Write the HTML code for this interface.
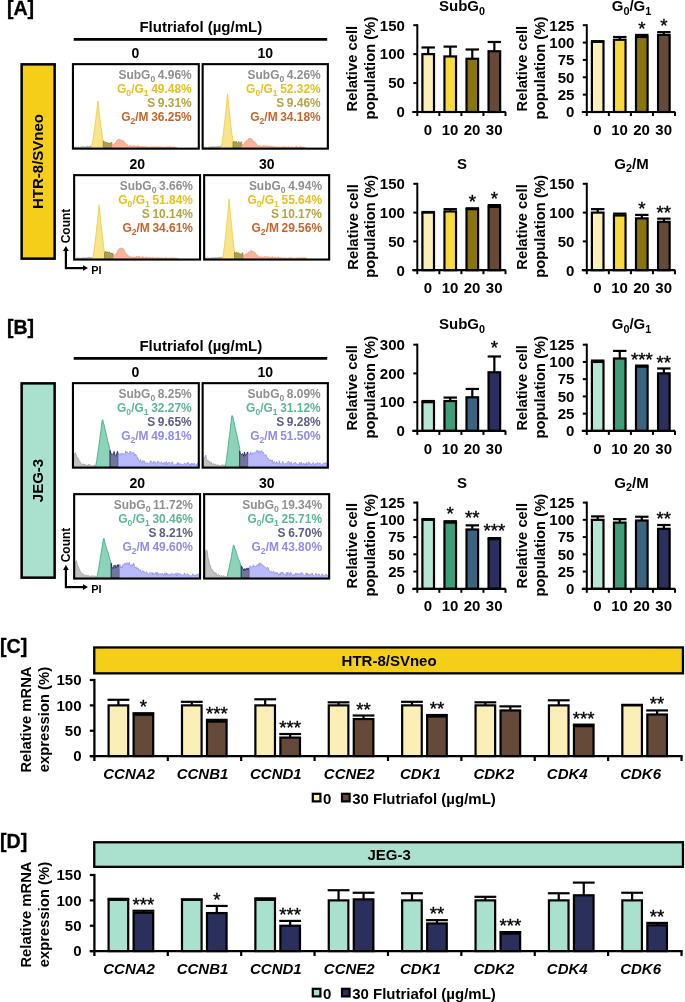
<!DOCTYPE html>
<html lang="en">
<head>
<meta charset="utf-8">
<title>Flutriafol cell cycle figure</title>
<style>
html,body{margin:0;padding:0;background:#fff;}
body{width:685px;height:1002px;overflow:hidden;font-family:"Liberation Sans", Arial, sans-serif;}
svg{display:block;}
svg text{font-family:"Liberation Sans", Arial, sans-serif;}
</style>
</head>
<body>
<svg width="685" height="1002" viewBox="0 0 685 1002" font-family='"Liberation Sans", Arial, sans-serif' font-weight="bold">
<rect x="0" y="0" width="685" height="1002" fill="#fff"/>
<text x="6.9" y="15.4" font-size="19.6" text-anchor="start" fill="#000" font-weight="bold" stroke="#000" stroke-width="0.3">[A]</text>
<text x="200.8" y="32.2" font-size="15" text-anchor="middle" fill="#000" font-weight="bold">Flutriafol (µg/mL)</text>
<line x1="73.7" y1="39.4" x2="327.2" y2="39.4" stroke="#000" stroke-width="2.8" stroke-linecap="butt"/>
<rect x="21.65" y="64.35" width="33" height="194.3" fill="#f4ce18" stroke="#000" stroke-width="2.5"/>
<text x="43.1" y="161.5" font-size="15" text-anchor="middle" fill="#000" font-weight="bold" transform="rotate(-90 43.1 161.5)">HTR-8/SVneo</text>
<text x="135.3" y="58" font-size="14" text-anchor="middle" fill="#000" font-weight="bold">0</text>
<text x="265.3" y="58" font-size="14" text-anchor="middle" fill="#000" font-weight="bold">10</text>
<text x="137.2" y="169.3" font-size="14" text-anchor="middle" fill="#000" font-weight="bold">20</text>
<text x="266.8" y="169.3" font-size="14" text-anchor="middle" fill="#000" font-weight="bold">30</text>
<path d="M73.9 147.9L73.9 147.46L74.9 147.33L75.9 147.02L76.9 147.26L77.9 147.16L78.9 147.04L79.9 147.27L80.9 146.96L81.9 146.8L82.9 146.6L83.9 147.1L84.9 146.87L85.9 146.99L86.9 146.29L87.9 146.33L88.9 146.85L89.9 145.91L90.9 145.85L90.9 147.9Z" fill="#bdbdbd" stroke="#8e8e8e" stroke-width="0.5" stroke-linejoin="round" fill-opacity="1"/>
<path d="M90.9 147.9L90.9 147.1L91.4 147.65L91.9 145.55L92.4 142.89L92.9 139.91L93.4 136.67L93.9 133.23L94.4 129.62L94.9 125.87L95.4 121.98L95.9 117.97L96.4 113.85L96.9 109.63L97.4 105.31L97.9 100.9L98.4 105.31L98.9 109.63L99.4 113.85L99.9 117.97L100.4 121.98L100.9 125.87L101.4 129.62L101.9 133.23L102.4 136.67L102.9 139.91L103.3 142.32L103.3 141.9L103.3 147.9Z" fill="#f8e48a" stroke="#e9c82c" stroke-width="0.7" stroke-linejoin="round" fill-opacity="1"/>
<path d="M103.3 147.9L103.3 140.96L104.1 141.19L104.9 142.36L105.7 142.83L106.5 141.83L107.3 143.03L108.1 142.89L108.9 142.92L109.7 143.54L110.5 142.72L111.3 142.92L111.9 142.13L111.9 147.9Z" fill="#aaa150" stroke="#7a7327" stroke-width="0.6" stroke-linejoin="round" fill-opacity="1"/>
<path d="M111.9 147.9L111.9 145.42L112.7 144.72L113.5 144.38L114.3 143.39L115.1 143.11L115.9 142.75L116.7 140.5L117.5 139.82L118.3 139.54L119.1 139.35L119.9 139.86L120.7 139.91L121.5 139.96L122.3 140.95L123.1 140.31L123.9 142.06L124.7 142.12L125.5 144.01L126.3 143.68L127.1 144.54L127.9 146.26L128.7 146.17L129.5 145.35L130.3 146L131.1 145.33L131.9 146.09L132.7 146.5L133.5 145.74L134.3 145.52L135.1 146.21L135.9 146.47L136.7 146.17L137.5 145.37L138.3 145.7L139.1 146.58L139.9 146.48L140.7 146.72L141.5 146.83L142.3 146.04L143.1 146.82L143.9 146.46L144.7 146.65L145.5 146.99L146.3 146.47L147.1 147.14L147.9 146.66L148.7 147.23L149.5 146.95L150.3 147.18L151.1 147.15L151.9 146.49L152.7 146.67L153.5 147.15L154.3 146.61L155.1 147.26L155.9 147.09L156.7 146.66L157.5 146.86L158.3 147.37L159.1 146.54L159.9 147.27L160.7 147.23L161.5 146.74L162.3 147.16L163.1 147.19L163.9 147.4L164.7 147.38L165.5 146.92L166.3 147.24L167.1 146.91L167.9 147.12L168.7 147.04L169.5 146.57L170.3 147.02L171.1 146.93L171.9 146.66L172.7 147.3L173.5 147.32L173.9 146.62L174.9 147.46L175.9 147.62L176.85 147.64L176.85 147.9Z" fill="#fbb49a" stroke="#f08a5e" stroke-width="0.6" stroke-linejoin="round" fill-opacity="1"/>
<rect x="72.95" y="64.15" width="125.85" height="84.5" fill="none" stroke="#000" stroke-width="2.1"/>
<text x="191.65" y="79" font-size="11.95" text-anchor="end" fill="#8f8f8f" font-weight="bold" style="word-spacing:-0.7px">SubG<tspan font-size="8.6" dy="2.81">0</tspan><tspan dy="-2.81">&#8203;</tspan> 4.96%</text>
<text x="191.65" y="93" font-size="11.95" text-anchor="end" fill="#e6c11f" font-weight="bold" style="word-spacing:-0.7px">G<tspan font-size="8.6" dy="2.81">0</tspan><tspan dy="-2.81">&#8203;</tspan>/G<tspan font-size="8.6" dy="2.81">1</tspan><tspan dy="-2.81">&#8203;</tspan> 49.48%</text>
<text x="191.65" y="107" font-size="11.95" text-anchor="end" fill="#b3a544" font-weight="bold" style="word-spacing:-0.7px">S 9.31%</text>
<text x="191.65" y="121" font-size="11.95" text-anchor="end" fill="#c8642a" font-weight="bold" style="word-spacing:-0.7px">G<tspan font-size="8.6" dy="2.81">2</tspan><tspan dy="-2.81">&#8203;</tspan>/M 36.25%</text>
<path d="M203.6 147.9L203.6 147.45L204.6 147.27L205.6 147.19L206.6 147.48L207.6 147.51L208.6 147.19L209.6 147.2L210.6 146.73L211.6 146.75L212.6 146.75L213.6 146.72L214.6 146.56L215.6 146.94L216.6 146.62L217.6 146.8L218.6 146.06L219.6 146.78L220.6 145.99L220.6 147.9Z" fill="#bdbdbd" stroke="#8e8e8e" stroke-width="0.5" stroke-linejoin="round" fill-opacity="1"/>
<path d="M220.6 147.9L220.6 147.1L221.1 147.61L221.6 145.2L222.1 142.15L222.6 138.71L223.1 135L223.6 131.05L224.1 126.9L224.6 122.59L225.1 118.12L225.6 113.51L226.1 108.78L226.6 103.93L227.1 98.96L227.6 93.9L228.1 98.96L228.6 103.93L229.1 108.78L229.6 113.51L230.1 118.12L230.6 122.59L231.1 126.9L231.6 131.05L232.1 135L232.6 138.71L233 141.49L233 141.9L233 147.9Z" fill="#f8e48a" stroke="#e9c82c" stroke-width="0.7" stroke-linejoin="round" fill-opacity="1"/>
<path d="M233 147.9L233 142.25L233.8 141.03L234.6 141.96L235.4 141.96L236.2 141.13L237 143.12L237.8 143.18L238.6 141.41L239.4 142.47L240.2 143.56L241 141.7L241.6 141.9L241.6 147.9Z" fill="#aaa150" stroke="#7a7327" stroke-width="0.6" stroke-linejoin="round" fill-opacity="1"/>
<path d="M241.6 147.9L241.6 145.86L242.4 144.83L243.2 144.78L244 143.69L244.8 142.24L245.6 142.36L246.4 140.41L247.2 140.99L248 140.06L248.8 138.17L249.6 138.7L250.4 138.52L251.2 138.34L252 139.21L252.8 140.34L253.6 142.19L254.4 141.88L255.2 142.42L256 143.34L256.8 144.67L257.6 145.63L258.4 145.9L259.2 145.61L260 145.71L260.8 146.47L261.6 146.3L262.4 146.11L263.2 145.89L264 145.48L264.8 145.9L265.6 146.55L266.4 145.51L267.2 146.08L268 146.01L268.8 146.45L269.6 146.25L270.4 146.37L271.2 145.98L272 146.85L272.8 146.4L273.6 146.89L274.4 146.38L275.2 147.15L276 146.95L276.8 146.92L277.6 146.67L278.4 147.29L279.2 146.92L280 147.19L280.8 147.14L281.6 146.97L282.4 146.52L283.2 146.99L284 146.54L284.8 147.3L285.6 146.59L286.4 147.12L287.2 147.29L288 146.76L288.8 146.61L289.6 147.46L290.4 147.22L291.2 146.75L292 147.15L292.8 147.24L293.6 147.46L294.4 147.43L295.2 146.89L296 146.55L296.8 146.53L297.6 147L298.4 147.45L299.2 147.17L300 146.73L300.8 146.69L301.6 146.87L302.4 147.25L303.2 146.97L303.6 147.02L304.6 147.51L305.6 147.62L305.9 147.42L305.9 147.9Z" fill="#fbb49a" stroke="#f08a5e" stroke-width="0.6" stroke-linejoin="round" fill-opacity="1"/>
<rect x="202.65" y="64.15" width="125.2" height="84.5" fill="none" stroke="#000" stroke-width="2.1"/>
<text x="320.7" y="79" font-size="11.95" text-anchor="end" fill="#8f8f8f" font-weight="bold" style="word-spacing:-0.7px">SubG<tspan font-size="8.6" dy="2.81">0</tspan><tspan dy="-2.81">&#8203;</tspan> 4.26%</text>
<text x="320.7" y="93" font-size="11.95" text-anchor="end" fill="#e6c11f" font-weight="bold" style="word-spacing:-0.7px">G<tspan font-size="8.6" dy="2.81">0</tspan><tspan dy="-2.81">&#8203;</tspan>/G<tspan font-size="8.6" dy="2.81">1</tspan><tspan dy="-2.81">&#8203;</tspan> 52.32%</text>
<text x="320.7" y="107" font-size="11.95" text-anchor="end" fill="#b3a544" font-weight="bold" style="word-spacing:-0.7px">S 9.46%</text>
<text x="320.7" y="121" font-size="11.95" text-anchor="end" fill="#c8642a" font-weight="bold" style="word-spacing:-0.7px">G<tspan font-size="8.6" dy="2.81">2</tspan><tspan dy="-2.81">&#8203;</tspan>/M 34.18%</text>
<path d="M75.1 258.8L75.1 258.48L76.1 258.15L77.1 258.08L78.1 257.9L79.1 258.29L80.1 258.19L81.1 258.19L82.1 258.08L83.1 257.62L84.1 258.03L85.1 257.64L86.1 257.84L87.1 257.71L88.1 257.53L89.1 257.1L90.1 257.23L91.1 257.72L92.1 257.42L92.1 258.8Z" fill="#bdbdbd" stroke="#8e8e8e" stroke-width="0.5" stroke-linejoin="round" fill-opacity="1"/>
<path d="M92.1 258.8L92.1 258L92.6 258.51L93.1 256.1L93.6 253.05L94.1 249.61L94.6 245.9L95.1 241.95L95.6 237.8L96.1 233.49L96.6 229.02L97.1 224.41L97.6 219.68L98.1 214.83L98.6 209.86L99.1 204.8L99.6 209.86L100.1 214.83L100.6 219.68L101.1 224.41L101.6 229.02L102.1 233.49L102.6 237.8L103.1 241.95L103.6 245.9L104.1 249.61L104.5 252.39L104.5 252.8L104.5 258.8Z" fill="#f8e48a" stroke="#e9c82c" stroke-width="0.7" stroke-linejoin="round" fill-opacity="1"/>
<path d="M104.5 258.8L104.5 252.99L105.3 251.52L106.1 251.8L106.9 251.96L107.7 252.06L108.5 252.4L109.3 252.09L110.1 252.58L110.9 253.94L111.7 252.76L112.5 253.72L113.1 253.23L113.1 258.8Z" fill="#aaa150" stroke="#7a7327" stroke-width="0.6" stroke-linejoin="round" fill-opacity="1"/>
<path d="M113.1 258.8L113.1 255.83L113.9 255.45L114.7 254.87L115.5 253.91L116.3 253.26L117.1 252.74L117.9 250.33L118.7 249.51L119.5 248.36L120.3 248.39L121.1 248.29L121.9 247.72L122.7 249.23L123.5 248.79L124.3 250.33L125.1 252.15L125.9 253.38L126.7 253.89L127.5 255.43L128.3 255.75L129.1 256.04L129.9 256.69L130.7 257.24L131.5 256.83L132.3 257.2L133.1 257.19L133.9 257.23L134.7 256.99L135.5 257.37L136.3 256.6L137.1 256.21L137.9 256.99L138.7 256.59L139.5 256.37L140.3 257.58L141.1 257.51L141.9 256.76L142.7 256.8L143.5 257.12L144.3 257.75L145.1 257.52L145.9 257.09L146.7 257.15L147.5 257.3L148.3 257.97L149.1 257.35L149.9 257.87L150.7 257.56L151.5 258.16L152.3 257.37L153.1 257.74L153.9 257.64L154.7 258.14L155.5 257.77L156.3 257.81L157.1 257.8L157.9 258.02L158.7 257.68L159.5 258.04L160.3 258.09L161.1 258.21L161.9 257.73L162.7 258.26L163.5 258.16L164.3 258.3L165.1 257.77L165.9 257.85L166.7 257.86L167.5 258.33L168.3 257.96L169.1 258.05L169.9 258.28L170.7 258.37L171.5 257.43L172.3 258.25L173.1 258.09L173.9 258.12L174.7 257.81L175.1 258.3L176.1 258.46L177.1 258.49L178.1 258.35L178.1 258.8Z" fill="#fbb49a" stroke="#f08a5e" stroke-width="0.6" stroke-linejoin="round" fill-opacity="1"/>
<rect x="74.15" y="175.15" width="125.9" height="84.4" fill="none" stroke="#000" stroke-width="2.1"/>
<text x="192.9" y="190" font-size="11.95" text-anchor="end" fill="#8f8f8f" font-weight="bold" style="word-spacing:-0.7px">SubG<tspan font-size="8.6" dy="2.81">0</tspan><tspan dy="-2.81">&#8203;</tspan> 3.66%</text>
<text x="192.9" y="204" font-size="11.95" text-anchor="end" fill="#e6c11f" font-weight="bold" style="word-spacing:-0.7px">G<tspan font-size="8.6" dy="2.81">0</tspan><tspan dy="-2.81">&#8203;</tspan>/G<tspan font-size="8.6" dy="2.81">1</tspan><tspan dy="-2.81">&#8203;</tspan> 51.84%</text>
<text x="192.9" y="218" font-size="11.95" text-anchor="end" fill="#b3a544" font-weight="bold" style="word-spacing:-0.7px">S 10.14%</text>
<text x="192.9" y="232" font-size="11.95" text-anchor="end" fill="#c8642a" font-weight="bold" style="word-spacing:-0.7px">G<tspan font-size="8.6" dy="2.81">2</tspan><tspan dy="-2.81">&#8203;</tspan>/M 34.61%</text>
<path d="M205.1 258.8L205.1 258.58L206.1 258.14L207.1 258.1L208.1 257.83L209.1 258.23L210.1 258.18L211.1 257.76L212.1 257.75L213.1 257.95L214.1 257.59L215.1 257.75L216.1 257.37L217.1 257.86L218.1 257.71L219.1 257.04L220.1 257.46L221.1 257.49L222.1 256.91L222.1 258.8Z" fill="#bdbdbd" stroke="#8e8e8e" stroke-width="0.5" stroke-linejoin="round" fill-opacity="1"/>
<path d="M222.1 258.8L222.1 258L222.6 258.48L223.1 255.8L223.6 252.41L224.1 248.59L224.6 244.46L225.1 240.07L225.6 235.47L226.1 230.67L226.6 225.71L227.1 220.59L227.6 215.33L228.1 209.94L228.6 204.43L229.1 198.8L229.6 204.43L230.1 209.94L230.6 215.33L231.1 220.59L231.6 225.71L232.1 230.67L232.6 235.47L233.1 240.07L233.6 244.46L234.1 248.59L234.5 251.68L234.5 252.8L234.5 258.8Z" fill="#f8e48a" stroke="#e9c82c" stroke-width="0.7" stroke-linejoin="round" fill-opacity="1"/>
<path d="M234.5 258.8L234.5 251.91L235.3 253.13L236.1 252.38L236.9 252.28L237.7 253.55L238.5 252.6L239.3 253.94L240.1 253.61L240.9 254.32L241.7 254.2L242.5 252.62L243.1 254.02L243.1 258.8Z" fill="#aaa150" stroke="#7a7327" stroke-width="0.6" stroke-linejoin="round" fill-opacity="1"/>
<path d="M243.1 258.8L243.1 255.73L243.9 256.1L244.7 255.26L245.5 254.07L246.3 253.79L247.1 254.31L247.9 252.62L248.7 251.88L249.5 252.27L250.3 252.01L251.1 250.08L251.9 250.72L252.7 251.54L253.5 251.5L254.3 252.75L255.1 252.44L255.9 254L256.7 255.68L257.5 254.99L258.3 256.76L259.1 256.79L259.9 257.35L260.7 256.49L261.5 257.38L262.3 256.84L263.1 257.39L263.9 256.86L264.7 256.56L265.5 256.75L266.3 256.86L267.1 256.84L267.9 256.93L268.7 256.76L269.5 257.46L270.3 257.03L271.1 257.39L271.9 256.68L272.7 256.68L273.5 257.79L274.3 257.76L275.1 257.2L275.9 257.42L276.7 258.07L277.5 257.4L278.3 257.21L279.1 257.79L279.9 257.9L280.7 257.71L281.5 257.38L282.3 258.05L283.1 258.03L283.9 258.15L284.7 257.75L285.5 257.91L286.3 258.11L287.1 257.99L287.9 258.33L288.7 258.07L289.5 257.44L290.3 257.82L291.1 258.1L291.9 257.49L292.7 258.03L293.5 258.13L294.3 258.34L295.1 258.23L295.9 258.18L296.7 258.15L297.5 257.55L298.3 258.12L299.1 258.14L299.9 257.8L300.7 257.51L301.5 258.1L302.3 257.65L303.1 258.02L303.9 257.84L304.7 257.81L305.1 257.49L306.1 258.37L307.1 258.45L307.2 258.35L307.2 258.8Z" fill="#fbb49a" stroke="#f08a5e" stroke-width="0.6" stroke-linejoin="round" fill-opacity="1"/>
<rect x="204.15" y="175.15" width="125" height="84.4" fill="none" stroke="#000" stroke-width="2.1"/>
<text x="322" y="190" font-size="11.95" text-anchor="end" fill="#8f8f8f" font-weight="bold" style="word-spacing:-0.7px">SubG<tspan font-size="8.6" dy="2.81">0</tspan><tspan dy="-2.81">&#8203;</tspan> 4.94%</text>
<text x="322" y="204" font-size="11.95" text-anchor="end" fill="#e6c11f" font-weight="bold" style="word-spacing:-0.7px">G<tspan font-size="8.6" dy="2.81">0</tspan><tspan dy="-2.81">&#8203;</tspan>/G<tspan font-size="8.6" dy="2.81">1</tspan><tspan dy="-2.81">&#8203;</tspan> 55.64%</text>
<text x="322" y="218" font-size="11.95" text-anchor="end" fill="#b3a544" font-weight="bold" style="word-spacing:-0.7px">S 10.17%</text>
<text x="322" y="232" font-size="11.95" text-anchor="end" fill="#c8642a" font-weight="bold" style="word-spacing:-0.7px">G<tspan font-size="8.6" dy="2.81">2</tspan><tspan dy="-2.81">&#8203;</tspan>/M 29.56%</text>
<line x1="65.9" y1="249.4" x2="65.9" y2="269.2" stroke="#000" stroke-width="2.2" stroke-linecap="butt"/>
<line x1="65.9" y1="268.1" x2="84.5" y2="268.1" stroke="#000" stroke-width="2.2" stroke-linecap="butt"/>
<path d="M65.9 245.9L63 250.9L68.8 250.9Z" fill="#000"/>
<path d="M88 268.1L83 265.2L83 271Z" fill="#000"/>
<text x="70.2" y="226" font-size="12" text-anchor="middle" fill="#000" font-weight="bold" transform="rotate(-90 70.2 226)">Count</text>
<text x="91.3" y="274.1" font-size="10.9" text-anchor="start" fill="#000" font-weight="bold">PI</text>
<text x="6.9" y="334.4" font-size="19.6" text-anchor="start" fill="#000" font-weight="bold" stroke="#000" stroke-width="0.3">[B]</text>
<text x="200.8" y="351.2" font-size="15" text-anchor="middle" fill="#000" font-weight="bold">Flutriafol (µg/mL)</text>
<line x1="73.7" y1="358.4" x2="327.2" y2="358.4" stroke="#000" stroke-width="2.8" stroke-linecap="butt"/>
<rect x="21.65" y="383.35" width="33" height="194.3" fill="#a9e0ce" stroke="#000" stroke-width="2.5"/>
<text x="43.1" y="480.5" font-size="15" text-anchor="middle" fill="#000" font-weight="bold" transform="rotate(-90 43.1 480.5)">JEG-3</text>
<text x="135.3" y="377" font-size="14" text-anchor="middle" fill="#000" font-weight="bold">0</text>
<text x="265.3" y="377" font-size="14" text-anchor="middle" fill="#000" font-weight="bold">10</text>
<text x="137.2" y="488.3" font-size="14" text-anchor="middle" fill="#000" font-weight="bold">20</text>
<text x="266.8" y="488.3" font-size="14" text-anchor="middle" fill="#000" font-weight="bold">30</text>
<path d="M73.2 466.9L73.2 466.6L73.7 460.98L74.5 453.86L75.3 452.5L76.1 454.81L76.9 457.55L77.7 457.47L78.5 458.84L79.3 460.9L80.1 461.85L80.9 463.42L81.7 464.65L82.5 464.02L83.3 463.85L84.1 465.35L84.9 463.99L85.7 465.35L86.5 465.49L87.3 465.95L88.1 464.29L88.9 464.85L89.7 464.69L90.5 465.19L91.3 466.22L92.1 465.75L92.9 465.5L93.7 466.15L94.5 464.79L94.9 465.75L94.9 466.9Z" fill="#c2c2c2" stroke="#8e8e8e" stroke-width="0.6" stroke-linejoin="round" fill-opacity="1"/>
<path d="M95 466.9L95 466.1L95.6 466.9L96.2 463.32L96.8 460.47L97.4 455.36L98 451.86L98.6 447.43L99.2 443.33L99.8 438.65L100.4 434.5L101 430.08L101.6 424.23L102.2 420.37L102.8 419.7L103.4 423.04L104 424.51L104.6 427.14L105.2 429.85L105.8 432.35L106.4 435.1L107 437.38L107.6 440.71L108.2 442.69L108.8 444.66L109.4 447.98L110 449.39L110 466.9Z" fill="#8dd3b9" stroke="#3fae85" stroke-width="0.9" stroke-linejoin="round" fill-opacity="1"/>
<path d="M110 466.9L110 450.4L110.6 451.95L111.3 454.36L112 454.58L112.7 454.15L113.4 454.48L114.1 451.41L114.8 454.47L115.5 456.28L116.2 455.95L116.9 452.8L117.6 451.42L118.2 453.92L118.2 466.9Z" fill="#74759c" stroke="#1d1d4a" stroke-width="0.8" stroke-linejoin="round" fill-opacity="1"/>
<path d="M118.2 466.9L118.2 453.9L118.8 454.61L119.5 454.3L120.2 453.41L120.9 455.33L121.6 453.64L122.3 453.62L123 453.11L123.7 454.58L124.4 454.34L125.1 453.37L125.8 450.87L126.5 452.95L127.2 451.84L127.9 452.93L128.6 453.74L129.3 453.97L130 451.19L130.7 451.53L131.4 453.37L132.1 452.49L132.8 452.93L133.5 452.55L134.2 452.91L134.9 455.76L135.6 454.25L136.3 455.17L137 457.46L137.7 457.1L138.4 459.36L139.1 460.45L139.8 461.48L140.5 459.45L141.2 462.6L141.9 463.24L142.6 460.57L143.3 460.86L144 462.13L144.7 460.85L145.4 464.01L146.1 463.27L146.8 463.2L147.5 462.74L148.2 463.76L148.9 464.2L149.6 463.18L150.3 461.02L151 460.72L151.7 461.68L152.4 462.76L153.1 463.68L153.8 460.93L154.5 462.66L155.2 461.89L155.9 464.66L156.6 463.97L157.3 461.54L158 461.74L158.7 461.43L159.4 462.55L160.1 463.26L160.8 462.68L161.5 461.68L162.2 463.78L162.9 462.94L163.6 463.94L164.3 462.11L165 464.98L165.7 462.47L166.4 461.5L167.1 464.98L167.8 462.89L168.5 462.73L169.2 462L169.9 463L170.6 464.2L171.3 463.69L172 461.72L172.7 461.94L173.4 464.72L174.1 464.87L174.8 464.89L175.5 465.14L176.2 463.68L176.9 464.77L177.6 462.25L178.3 463.01L179 464.86L179.7 463.46L180.4 464.21L181.1 463.65L181.8 464.6L182.5 464.79L183.2 464.75L183.9 464.11L184.6 463.02L185.3 463.57L186 465.26L186.7 463.07L187.4 462.56L188.1 462.9L188.8 462.87L189.5 465.44L190.2 463.97L190.9 465.29L191.6 463.04L192.3 464.95L193 463.24L193.7 464.73L194.4 463.32L195.1 464.56L195.8 465.43L196.5 464.35L197.2 464.61L197.9 462.77L198.6 464.68L198.85 464.04L198.85 466.9Z" fill="#b9b9fb" stroke="#7d7df0" stroke-width="0.6" stroke-linejoin="round" fill-opacity="1"/>
<rect x="72.95" y="383.15" width="125.85" height="84.5" fill="none" stroke="#000" stroke-width="2.1"/>
<text x="191.65" y="398" font-size="11.95" text-anchor="end" fill="#8f8f8f" font-weight="bold" style="word-spacing:-0.7px">SubG<tspan font-size="8.6" dy="2.81">0</tspan><tspan dy="-2.81">&#8203;</tspan> 8.25%</text>
<text x="191.65" y="412" font-size="11.95" text-anchor="end" fill="#5bb893" font-weight="bold" style="word-spacing:-0.7px">G<tspan font-size="8.6" dy="2.81">0</tspan><tspan dy="-2.81">&#8203;</tspan>/G<tspan font-size="8.6" dy="2.81">1</tspan><tspan dy="-2.81">&#8203;</tspan> 32.27%</text>
<text x="191.65" y="426" font-size="11.95" text-anchor="end" fill="#5d5d86" font-weight="bold" style="word-spacing:-0.7px">S 9.65%</text>
<text x="191.65" y="440" font-size="11.95" text-anchor="end" fill="#8c8cf2" font-weight="bold" style="word-spacing:-0.7px">G<tspan font-size="8.6" dy="2.81">2</tspan><tspan dy="-2.81">&#8203;</tspan>/M 49.81%</text>
<path d="M202.9 466.9L202.9 466.6L203.4 459.61L204.2 457.46L205 456.52L205.8 455.03L206.6 459.14L207.4 460.75L208.2 460.29L209 462.19L209.8 461.29L210.6 463.9L211.4 462.36L212.2 464.45L213 464.09L213.8 463.64L214.6 464.4L215.4 464.11L216.2 464.68L217 466L217.8 464.58L218.6 465.17L219.4 465.71L220.2 465.95L221 464.88L221.8 465.35L222.6 464.79L223.4 465.08L224.2 464.79L224.6 465.44L224.6 466.9Z" fill="#c2c2c2" stroke="#8e8e8e" stroke-width="0.6" stroke-linejoin="round" fill-opacity="1"/>
<path d="M224.7 466.9L224.7 466.1L225.3 466.82L225.9 463.23L226.5 459.57L227.1 454.19L227.7 450.5L228.3 445.11L228.9 440.02L229.5 435.5L230.1 431.18L230.7 425.12L231.3 420.16L231.9 415.6L232.5 415.9L233.1 418.03L233.7 421.52L234.3 423.05L234.9 426.42L235.5 429.17L236.1 432.08L236.7 434.47L237.3 436.85L237.9 440.43L238.5 443.04L239.1 445.45L239.7 448.53L239.7 466.9Z" fill="#8dd3b9" stroke="#3fae85" stroke-width="0.9" stroke-linejoin="round" fill-opacity="1"/>
<path d="M239.7 466.9L239.7 450.9L240.3 453.92L241 454.18L241.7 454.74L242.4 453.53L243.1 454.26L243.8 456.48L244.5 451.9L245.2 455.13L245.9 454.74L246.6 454.89L247.3 452.24L247.9 452.12L247.9 466.9Z" fill="#74759c" stroke="#1d1d4a" stroke-width="0.8" stroke-linejoin="round" fill-opacity="1"/>
<path d="M247.9 466.9L247.9 454.4L248.5 453.62L249.2 453.97L249.9 455.05L250.6 451.77L251.3 454.41L252 452.71L252.7 453.22L253.4 453.01L254.1 452.61L254.8 452.98L255.5 453.33L256.2 451.19L256.9 450.04L257.6 450.58L258.3 452.36L259 450.54L259.7 453.23L260.4 452.06L261.1 450.73L261.8 450.74L262.5 453L263.2 452.04L263.9 454.06L264.6 454.71L265.3 455.32L266 454.62L266.7 456.48L267.4 458.41L268.1 458.19L268.8 459.21L269.5 460.92L270.2 459.7L270.9 459.94L271.6 461.06L272.3 459.98L273 463.79L273.7 462.04L274.4 461.62L275.1 462.86L275.8 463.6L276.5 461.62L277.2 462.68L277.9 463.37L278.6 464.31L279.3 460.72L280 463.16L280.7 464.11L281.4 463.76L282.1 463.64L282.8 461.27L283.5 463.98L284.2 463.64L284.9 464.37L285.6 462.93L286.3 463.99L287 463.48L287.7 461.97L288.4 461.26L289.1 461.65L289.8 464.76L290.5 463.47L291.2 461.68L291.9 464.83L292.6 464.2L293.3 463.13L294 463.56L294.7 462.2L295.4 462.35L296.1 463.32L296.8 464.14L297.5 464.23L298.2 464.12L298.9 464.87L299.6 462.7L300.3 464.56L301 461.94L301.7 462.84L302.4 464.97L303.1 463.41L303.8 463.06L304.5 465.07L305.2 463.52L305.9 465.14L306.6 462.58L307.3 465.26L308 463.09L308.7 461.89L309.4 462.4L310.1 464.52L310.8 463.51L311.5 464.87L312.2 464.2L312.9 462.46L313.6 462.63L314.3 465.36L315 464.14L315.7 463.29L316.4 464.85L317.1 462.79L317.8 462.51L318.5 463.65L319.2 464.29L319.9 462.72L320.6 463.83L321.3 464.89L322 464.62L322.7 465.01L323.4 462.85L324.1 463.92L324.8 463.34L325.5 462.98L326.2 462.5L326.9 464.98L327.6 464.32L327.9 462.86L327.9 466.9Z" fill="#b9b9fb" stroke="#7d7df0" stroke-width="0.6" stroke-linejoin="round" fill-opacity="1"/>
<rect x="202.65" y="383.15" width="125.2" height="84.5" fill="none" stroke="#000" stroke-width="2.1"/>
<text x="320.7" y="398" font-size="11.95" text-anchor="end" fill="#8f8f8f" font-weight="bold" style="word-spacing:-0.7px">SubG<tspan font-size="8.6" dy="2.81">0</tspan><tspan dy="-2.81">&#8203;</tspan> 8.09%</text>
<text x="320.7" y="412" font-size="11.95" text-anchor="end" fill="#5bb893" font-weight="bold" style="word-spacing:-0.7px">G<tspan font-size="8.6" dy="2.81">0</tspan><tspan dy="-2.81">&#8203;</tspan>/G<tspan font-size="8.6" dy="2.81">1</tspan><tspan dy="-2.81">&#8203;</tspan> 31.12%</text>
<text x="320.7" y="426" font-size="11.95" text-anchor="end" fill="#5d5d86" font-weight="bold" style="word-spacing:-0.7px">S 9.28%</text>
<text x="320.7" y="440" font-size="11.95" text-anchor="end" fill="#8c8cf2" font-weight="bold" style="word-spacing:-0.7px">G<tspan font-size="8.6" dy="2.81">2</tspan><tspan dy="-2.81">&#8203;</tspan>/M 51.50%</text>
<path d="M74.4 577.8L74.4 577.5L74.9 568.48L75.7 562.05L76.5 560.47L77.3 565.11L78.1 565.8L78.9 568.3L79.7 569.62L80.5 572.2L81.3 573.09L82.1 573.18L82.9 574.56L83.7 574.39L84.5 575.93L85.3 576.05L86.1 574.88L86.9 575.74L87.7 575.74L88.5 575.46L89.3 576.29L90.1 576.92L90.9 575.7L91.7 576.1L92.5 576.04L93.3 576.14L94.1 575.59L94.9 576.63L95.7 575.99L96.1 576.64L96.1 577.8Z" fill="#c2c2c2" stroke="#8e8e8e" stroke-width="0.6" stroke-linejoin="round" fill-opacity="1"/>
<path d="M96.2 577.8L96.2 577L96.8 577.77L97.4 574.96L98 572.26L98.6 569.24L99.2 565.22L99.8 561.3L100.4 557.81L101 554.26L101.6 550.18L102.2 546.96L102.8 543.05L103.4 538.88L104 538.27L104.6 541.26L105.2 543.49L105.8 545.62L106.4 547.81L107 549.57L107.6 551.24L108.2 552.97L108.8 555.73L109.4 557.74L110 559.9L110.6 561.92L111.2 563.29L111.2 577.8Z" fill="#8dd3b9" stroke="#3fae85" stroke-width="0.9" stroke-linejoin="round" fill-opacity="1"/>
<path d="M111.2 577.8L111.2 563.3L111.8 566.55L112.5 568.02L113.2 568.78L113.9 565.37L114.6 565.76L115.3 565.14L116 568.12L116.7 566.57L117.4 564.69L118.1 566.33L118.8 564.55L119.4 568.48L119.4 577.8Z" fill="#74759c" stroke="#1d1d4a" stroke-width="0.8" stroke-linejoin="round" fill-opacity="1"/>
<path d="M119.4 577.8L119.4 566.8L120 564.52L120.7 568.05L121.4 566.53L122.1 567.94L122.8 564.69L123.5 564.96L124.2 563.61L124.9 564.01L125.6 563.18L126.3 564.54L127 562.55L127.7 563.3L128.4 564.75L129.1 562.22L129.8 564.57L130.5 565.35L131.2 565.92L131.9 564.56L132.6 565.84L133.3 563.24L134 563.53L134.7 566.84L135.4 567.82L136.1 566.77L136.8 568.88L137.5 568.15L138.2 567.85L138.9 570.77L139.6 570.78L140.3 569.48L141 571.76L141.7 572.56L142.4 570.72L143.1 571.28L143.8 571.16L144.5 572.13L145.2 573.33L145.9 572.33L146.6 571.87L147.3 572.68L148 574.31L148.7 574.14L149.4 573.73L150.1 572.35L150.8 573.23L151.5 573.29L152.2 572.24L152.9 575.08L153.6 573.06L154.3 574.26L155 573.4L155.7 572.35L156.4 574.67L157.1 571.95L157.8 575.39L158.5 573.53L159.2 573.63L159.9 574.86L160.6 573.61L161.3 573.99L162 574.09L162.7 573.08L163.4 575.84L164.1 574.44L164.8 572.91L165.5 575.37L166.2 572.67L166.9 575.17L167.6 573.42L168.3 575.32L169 574.32L169.7 574.44L170.4 575.71L171.1 573.48L171.8 574.3L172.5 573.56L173.2 574.13L173.9 574.09L174.6 574.22L175.3 575.05L176 572.94L176.7 575.83L177.4 573.07L178.1 573.14L178.8 574.44L179.5 573.49L180.2 573.87L180.9 574.13L181.6 575.22L182.3 575.14L183 575.06L183.7 575.23L184.4 573.03L185.1 575.13L185.8 574.99L186.5 574.9L187.2 573.6L187.9 574.74L188.6 574.51L189.3 575.51L190 575.45L190.7 576.08L191.4 575.67L192.1 575.54L192.8 573.65L193.5 574.8L194.2 576.07L194.9 574.95L195.6 576.06L196.3 574.66L197 575.06L197.7 573.77L198.4 575.67L199.1 573.83L199.8 575.73L200.1 573.44L200.1 577.8Z" fill="#b9b9fb" stroke="#7d7df0" stroke-width="0.6" stroke-linejoin="round" fill-opacity="1"/>
<rect x="74.15" y="494.15" width="125.9" height="84.4" fill="none" stroke="#000" stroke-width="2.1"/>
<text x="192.9" y="509" font-size="11.95" text-anchor="end" fill="#8f8f8f" font-weight="bold" style="word-spacing:-0.7px">SubG<tspan font-size="8.6" dy="2.81">0</tspan><tspan dy="-2.81">&#8203;</tspan> 11.72%</text>
<text x="192.9" y="523" font-size="11.95" text-anchor="end" fill="#5bb893" font-weight="bold" style="word-spacing:-0.7px">G<tspan font-size="8.6" dy="2.81">0</tspan><tspan dy="-2.81">&#8203;</tspan>/G<tspan font-size="8.6" dy="2.81">1</tspan><tspan dy="-2.81">&#8203;</tspan> 30.46%</text>
<text x="192.9" y="537" font-size="11.95" text-anchor="end" fill="#5d5d86" font-weight="bold" style="word-spacing:-0.7px">S 8.21%</text>
<text x="192.9" y="551" font-size="11.95" text-anchor="end" fill="#8c8cf2" font-weight="bold" style="word-spacing:-0.7px">G<tspan font-size="8.6" dy="2.81">2</tspan><tspan dy="-2.81">&#8203;</tspan>/M 49.60%</text>
<path d="M204.4 577.8L204.4 577.5L204.9 562.74L205.7 550.93L206.5 549.84L207.3 551.38L208.1 558.07L208.9 560.3L209.7 565.16L210.5 565.6L211.3 569.47L212.1 569.38L212.9 570.61L213.7 571.52L214.5 573.35L215.3 572.71L216.1 573.01L216.9 575.76L217.7 575.09L218.5 574.4L219.3 575.12L220.1 575.91L220.9 576.31L221.7 575.21L222.5 576.88L223.3 575.75L224.1 575.68L224.9 576.9L225.7 576.64L226.1 576.69L226.1 577.8Z" fill="#c2c2c2" stroke="#8e8e8e" stroke-width="0.6" stroke-linejoin="round" fill-opacity="1"/>
<path d="M226.2 577.8L226.2 577L226.8 577.78L227.4 575.75L228 572.52L228.6 569.76L229.2 567.78L229.8 564.05L230.4 562.22L231 559.13L231.6 555.23L232.2 551.89L232.8 548.67L233.4 545.2L234 545.45L234.6 548.01L235.2 549.06L235.8 550.53L236.4 553.4L237 554.55L237.6 556.73L238.2 558.44L238.8 559.65L239.4 561.07L240 562.31L240.6 565.16L241.2 566.28L241.2 577.8Z" fill="#8dd3b9" stroke="#3fae85" stroke-width="0.9" stroke-linejoin="round" fill-opacity="1"/>
<path d="M241.2 577.8L241.2 565.8L241.8 566.79L242.5 567.96L243.2 569.14L243.9 570.6L244.6 568.64L245.3 570.5L246 568.57L246.7 568.55L247.4 569.85L248.1 567.81L248.8 569.79L249.4 569.46L249.4 577.8Z" fill="#74759c" stroke="#1d1d4a" stroke-width="0.8" stroke-linejoin="round" fill-opacity="1"/>
<path d="M249.4 577.8L249.4 569.3L250 565.54L250.7 567.74L251.4 567.9L252.1 566.24L252.8 566.63L253.5 564.71L254.2 566.93L254.9 566.2L255.6 567.17L256.3 565.38L257 565.7L257.7 564.99L258.4 563.63L259.1 566.4L259.8 562.67L260.5 563.8L261.2 563.51L261.9 564.73L262.6 564.79L263.3 565.71L264 566.09L264.7 567.18L265.4 567.36L266.1 567.99L266.8 568.48L267.5 566.95L268.2 568.1L268.9 569.4L269.6 572.48L270.3 572.08L271 571.44L271.7 571.24L272.4 572.62L273.1 572.03L273.8 571.15L274.5 573.8L275.2 573.47L275.9 572.08L276.6 573.88L277.3 572.37L278 573.69L278.7 575.22L279.4 573.53L280.1 575.11L280.8 572.34L281.5 572.13L282.2 573.4L282.9 571.98L283.6 574.7L284.3 573.82L285 574.9L285.7 575.43L286.4 572.42L287.1 575.47L287.8 572.04L288.5 573.55L289.2 573.01L289.9 575.58L290.6 572.26L291.3 572.74L292 575.42L292.7 575.14L293.4 575.32L294.1 573.96L294.8 575.59L295.5 572.89L296.2 574.06L296.9 573.3L297.6 575L298.3 573.54L299 574.31L299.7 573.61L300.4 574.51L301.1 572.42L301.8 572.97L302.5 573.05L303.2 574.84L303.9 575.39L304.6 575.54L305.3 575.64L306 572.7L306.7 575.14L307.4 573.09L308.1 575.35L308.8 574.01L309.5 575.32L310.2 575.14L310.9 573.64L311.6 574.14L312.3 573.01L313 575.44L313.7 575.34L314.4 576.06L315.1 575.56L315.8 573.01L316.5 574.42L317.2 574.74L317.9 575.2L318.6 573.83L319.3 574.08L320 575.85L320.7 576.22L321.4 575.82L322.1 573.74L322.8 574.04L323.5 575.68L324.2 575.67L324.9 575.45L325.6 574.28L326.3 574.08L327 575.71L327.7 575.44L328.4 575.74L329.1 573.53L329.2 574.77L329.2 577.8Z" fill="#b9b9fb" stroke="#7d7df0" stroke-width="0.6" stroke-linejoin="round" fill-opacity="1"/>
<rect x="204.15" y="494.15" width="125" height="84.4" fill="none" stroke="#000" stroke-width="2.1"/>
<text x="322" y="509" font-size="11.95" text-anchor="end" fill="#8f8f8f" font-weight="bold" style="word-spacing:-0.7px">SubG<tspan font-size="8.6" dy="2.81">0</tspan><tspan dy="-2.81">&#8203;</tspan> 19.34%</text>
<text x="322" y="523" font-size="11.95" text-anchor="end" fill="#5bb893" font-weight="bold" style="word-spacing:-0.7px">G<tspan font-size="8.6" dy="2.81">0</tspan><tspan dy="-2.81">&#8203;</tspan>/G<tspan font-size="8.6" dy="2.81">1</tspan><tspan dy="-2.81">&#8203;</tspan> 25.71%</text>
<text x="322" y="537" font-size="11.95" text-anchor="end" fill="#5d5d86" font-weight="bold" style="word-spacing:-0.7px">S 6.70%</text>
<text x="322" y="551" font-size="11.95" text-anchor="end" fill="#8c8cf2" font-weight="bold" style="word-spacing:-0.7px">G<tspan font-size="8.6" dy="2.81">2</tspan><tspan dy="-2.81">&#8203;</tspan>/M 43.80%</text>
<line x1="65.9" y1="568.4" x2="65.9" y2="588.2" stroke="#000" stroke-width="2.2" stroke-linecap="butt"/>
<line x1="65.9" y1="587.1" x2="84.5" y2="587.1" stroke="#000" stroke-width="2.2" stroke-linecap="butt"/>
<path d="M65.9 564.9L63 569.9L68.8 569.9Z" fill="#000"/>
<path d="M88 587.1L83 584.2L83 590Z" fill="#000"/>
<text x="70.2" y="545" font-size="12" text-anchor="middle" fill="#000" font-weight="bold" transform="rotate(-90 70.2 545)">Count</text>
<text x="91.3" y="593.1" font-size="10.9" text-anchor="start" fill="#000" font-weight="bold">PI</text>
<line x1="428.2" y1="47.48" x2="428.2" y2="54.13" stroke="#000" stroke-width="2.2" stroke-linecap="butt"/>
<line x1="421.5" y1="47.48" x2="434.9" y2="47.48" stroke="#000" stroke-width="2.2" stroke-linecap="butt"/>
<rect x="422.4" y="54.13" width="11.6" height="57.87" fill="#fbefb8" stroke="#000" stroke-width="2.2"/>
<line x1="450.25" y1="46.61" x2="450.25" y2="56.45" stroke="#000" stroke-width="2.2" stroke-linecap="butt"/>
<line x1="443.55" y1="46.61" x2="456.95" y2="46.61" stroke="#000" stroke-width="2.2" stroke-linecap="butt"/>
<rect x="444.45" y="56.45" width="11.6" height="55.55" fill="#f5d93f" stroke="#000" stroke-width="2.2"/>
<line x1="472.3" y1="49.5" x2="472.3" y2="58.76" stroke="#000" stroke-width="2.2" stroke-linecap="butt"/>
<line x1="465.6" y1="49.5" x2="479" y2="49.5" stroke="#000" stroke-width="2.2" stroke-linecap="butt"/>
<rect x="466.5" y="58.76" width="11.6" height="53.24" fill="#8a740e" stroke="#000" stroke-width="2.2"/>
<line x1="494.35" y1="41.98" x2="494.35" y2="51.24" stroke="#000" stroke-width="2.2" stroke-linecap="butt"/>
<line x1="487.65" y1="41.98" x2="501.05" y2="41.98" stroke="#000" stroke-width="2.2" stroke-linecap="butt"/>
<rect x="488.55" y="51.24" width="11.6" height="60.76" fill="#654a39" stroke="#000" stroke-width="2.2"/>
<line x1="417.3" y1="24.2" x2="417.3" y2="116" stroke="#000" stroke-width="2" stroke-linecap="butt"/>
<line x1="412.3" y1="112" x2="505.8" y2="112" stroke="#000" stroke-width="2.2" stroke-linecap="butt"/>
<line x1="413.3" y1="112" x2="417.3" y2="112" stroke="#000" stroke-width="2" stroke-linecap="butt"/>
<text x="404.9" y="117.3" font-size="15" text-anchor="end" fill="#000" font-weight="bold">0</text>
<line x1="413.3" y1="83.07" x2="417.3" y2="83.07" stroke="#000" stroke-width="2" stroke-linecap="butt"/>
<text x="404.9" y="88.37" font-size="15" text-anchor="end" fill="#000" font-weight="bold">50</text>
<line x1="413.3" y1="54.13" x2="417.3" y2="54.13" stroke="#000" stroke-width="2" stroke-linecap="butt"/>
<text x="404.9" y="59.43" font-size="15" text-anchor="end" fill="#000" font-weight="bold">100</text>
<line x1="413.3" y1="25.2" x2="417.3" y2="25.2" stroke="#000" stroke-width="2" stroke-linecap="butt"/>
<text x="404.9" y="30.5" font-size="15" text-anchor="end" fill="#000" font-weight="bold">150</text>
<line x1="439.35" y1="112" x2="439.35" y2="116" stroke="#000" stroke-width="2" stroke-linecap="butt"/>
<line x1="461.4" y1="112" x2="461.4" y2="116" stroke="#000" stroke-width="2" stroke-linecap="butt"/>
<line x1="483.45" y1="112" x2="483.45" y2="116" stroke="#000" stroke-width="2" stroke-linecap="butt"/>
<line x1="505.5" y1="112" x2="505.5" y2="116" stroke="#000" stroke-width="2" stroke-linecap="butt"/>
<text x="428" y="134.6" font-size="15" text-anchor="middle" fill="#000" font-weight="bold">0</text>
<text x="450.05" y="134.6" font-size="15" text-anchor="middle" fill="#000" font-weight="bold">10</text>
<text x="472.1" y="134.6" font-size="15" text-anchor="middle" fill="#000" font-weight="bold">20</text>
<text x="494.15" y="134.6" font-size="15" text-anchor="middle" fill="#000" font-weight="bold">30</text>
<text x="462" y="11.1" font-size="15" text-anchor="middle" fill="#000" font-weight="bold">SubG<tspan font-size="10.8" dy="3.52">0</tspan><tspan dy="-3.52">&#8203;</tspan></text>
<text x="357.5" y="68.6" font-size="14.8" text-anchor="middle" fill="#000" font-weight="bold" transform="rotate(-90 357.5 68.6)">Relative cell</text>
<text x="375.1" y="68" font-size="14.8" text-anchor="middle" fill="#000" font-weight="bold" transform="rotate(-90 375.1 68)">population (%)</text>
<line x1="597.7" y1="41.17" x2="597.7" y2="41.87" stroke="#000" stroke-width="2.2" stroke-linecap="butt"/>
<line x1="591" y1="41.17" x2="604.4" y2="41.17" stroke="#000" stroke-width="2.2" stroke-linecap="butt"/>
<rect x="591.9" y="41.87" width="11.6" height="70.13" fill="#fbefb8" stroke="#000" stroke-width="2.2"/>
<line x1="619.75" y1="37" x2="619.75" y2="39.78" stroke="#000" stroke-width="2.2" stroke-linecap="butt"/>
<line x1="613.05" y1="37" x2="626.45" y2="37" stroke="#000" stroke-width="2.2" stroke-linecap="butt"/>
<rect x="613.95" y="39.78" width="11.6" height="72.22" fill="#f5d93f" stroke="#000" stroke-width="2.2"/>
<line x1="641.8" y1="34.92" x2="641.8" y2="37" stroke="#000" stroke-width="2.2" stroke-linecap="butt"/>
<line x1="635.1" y1="34.92" x2="648.5" y2="34.92" stroke="#000" stroke-width="2.2" stroke-linecap="butt"/>
<rect x="636" y="37" width="11.6" height="75" fill="#8a740e" stroke="#000" stroke-width="2.2"/>
<text x="641.8" y="35.22" font-size="18.7" text-anchor="middle" fill="#000" font-weight="normal" stroke="#000" stroke-width="0.35">*</text>
<line x1="663.85" y1="32.14" x2="663.85" y2="34.92" stroke="#000" stroke-width="2.2" stroke-linecap="butt"/>
<line x1="657.15" y1="32.14" x2="670.55" y2="32.14" stroke="#000" stroke-width="2.2" stroke-linecap="butt"/>
<rect x="658.05" y="34.92" width="11.6" height="77.08" fill="#654a39" stroke="#000" stroke-width="2.2"/>
<text x="663.85" y="32.44" font-size="18.7" text-anchor="middle" fill="#000" font-weight="normal" stroke="#000" stroke-width="0.35">*</text>
<line x1="586.8" y1="24.2" x2="586.8" y2="116" stroke="#000" stroke-width="2" stroke-linecap="butt"/>
<line x1="581.8" y1="112" x2="675.3" y2="112" stroke="#000" stroke-width="2.2" stroke-linecap="butt"/>
<line x1="582.8" y1="112" x2="586.8" y2="112" stroke="#000" stroke-width="2" stroke-linecap="butt"/>
<text x="574.4" y="117.3" font-size="15" text-anchor="end" fill="#000" font-weight="bold">0</text>
<line x1="582.8" y1="94.64" x2="586.8" y2="94.64" stroke="#000" stroke-width="2" stroke-linecap="butt"/>
<text x="574.4" y="99.94" font-size="15" text-anchor="end" fill="#000" font-weight="bold">25</text>
<line x1="582.8" y1="77.28" x2="586.8" y2="77.28" stroke="#000" stroke-width="2" stroke-linecap="butt"/>
<text x="574.4" y="82.58" font-size="15" text-anchor="end" fill="#000" font-weight="bold">50</text>
<line x1="582.8" y1="59.92" x2="586.8" y2="59.92" stroke="#000" stroke-width="2" stroke-linecap="butt"/>
<text x="574.4" y="65.22" font-size="15" text-anchor="end" fill="#000" font-weight="bold">75</text>
<line x1="582.8" y1="42.56" x2="586.8" y2="42.56" stroke="#000" stroke-width="2" stroke-linecap="butt"/>
<text x="574.4" y="47.86" font-size="15" text-anchor="end" fill="#000" font-weight="bold">100</text>
<line x1="582.8" y1="25.2" x2="586.8" y2="25.2" stroke="#000" stroke-width="2" stroke-linecap="butt"/>
<text x="574.4" y="30.5" font-size="15" text-anchor="end" fill="#000" font-weight="bold">125</text>
<line x1="608.85" y1="112" x2="608.85" y2="116" stroke="#000" stroke-width="2" stroke-linecap="butt"/>
<line x1="630.9" y1="112" x2="630.9" y2="116" stroke="#000" stroke-width="2" stroke-linecap="butt"/>
<line x1="652.95" y1="112" x2="652.95" y2="116" stroke="#000" stroke-width="2" stroke-linecap="butt"/>
<line x1="675" y1="112" x2="675" y2="116" stroke="#000" stroke-width="2" stroke-linecap="butt"/>
<text x="597.5" y="134.6" font-size="15" text-anchor="middle" fill="#000" font-weight="bold">0</text>
<text x="619.55" y="134.6" font-size="15" text-anchor="middle" fill="#000" font-weight="bold">10</text>
<text x="641.6" y="134.6" font-size="15" text-anchor="middle" fill="#000" font-weight="bold">20</text>
<text x="663.65" y="134.6" font-size="15" text-anchor="middle" fill="#000" font-weight="bold">30</text>
<text x="631.5" y="11.1" font-size="15" text-anchor="middle" fill="#000" font-weight="bold">G<tspan font-size="10.8" dy="3.52">0</tspan><tspan dy="-3.52">&#8203;</tspan>/G<tspan font-size="10.8" dy="3.52">1</tspan><tspan dy="-3.52">&#8203;</tspan></text>
<text x="527" y="68.6" font-size="14.8" text-anchor="middle" fill="#000" font-weight="bold" transform="rotate(-90 527 68.6)">Relative cell</text>
<text x="544.6" y="68" font-size="14.8" text-anchor="middle" fill="#000" font-weight="bold" transform="rotate(-90 544.6 68)">population (%)</text>
<line x1="428.2" y1="212.02" x2="428.2" y2="212.6" stroke="#000" stroke-width="2.2" stroke-linecap="butt"/>
<line x1="421.5" y1="212.02" x2="434.9" y2="212.02" stroke="#000" stroke-width="2.2" stroke-linecap="butt"/>
<rect x="422.4" y="212.6" width="11.6" height="57.6" fill="#fbefb8" stroke="#000" stroke-width="2.2"/>
<line x1="450.25" y1="209.14" x2="450.25" y2="211.45" stroke="#000" stroke-width="2.2" stroke-linecap="butt"/>
<line x1="443.55" y1="209.14" x2="456.95" y2="209.14" stroke="#000" stroke-width="2.2" stroke-linecap="butt"/>
<rect x="444.45" y="211.45" width="11.6" height="58.75" fill="#f5d93f" stroke="#000" stroke-width="2.2"/>
<line x1="472.3" y1="208.28" x2="472.3" y2="209.14" stroke="#000" stroke-width="2.2" stroke-linecap="butt"/>
<line x1="465.6" y1="208.28" x2="479" y2="208.28" stroke="#000" stroke-width="2.2" stroke-linecap="butt"/>
<rect x="466.5" y="209.14" width="11.6" height="61.06" fill="#8a740e" stroke="#000" stroke-width="2.2"/>
<text x="472.3" y="207.78" font-size="18.7" text-anchor="middle" fill="#000" font-weight="normal" stroke="#000" stroke-width="0.35">*</text>
<line x1="494.35" y1="205.11" x2="494.35" y2="206.84" stroke="#000" stroke-width="2.2" stroke-linecap="butt"/>
<line x1="487.65" y1="205.11" x2="501.05" y2="205.11" stroke="#000" stroke-width="2.2" stroke-linecap="butt"/>
<rect x="488.55" y="206.84" width="11.6" height="63.36" fill="#654a39" stroke="#000" stroke-width="2.2"/>
<text x="494.35" y="204.61" font-size="18.7" text-anchor="middle" fill="#000" font-weight="normal" stroke="#000" stroke-width="0.35">*</text>
<line x1="417.3" y1="182.8" x2="417.3" y2="274.2" stroke="#000" stroke-width="2" stroke-linecap="butt"/>
<line x1="412.3" y1="270.2" x2="505.8" y2="270.2" stroke="#000" stroke-width="2.2" stroke-linecap="butt"/>
<line x1="413.3" y1="270.2" x2="417.3" y2="270.2" stroke="#000" stroke-width="2" stroke-linecap="butt"/>
<text x="404.9" y="275.5" font-size="15" text-anchor="end" fill="#000" font-weight="bold">0</text>
<line x1="413.3" y1="241.4" x2="417.3" y2="241.4" stroke="#000" stroke-width="2" stroke-linecap="butt"/>
<text x="404.9" y="246.7" font-size="15" text-anchor="end" fill="#000" font-weight="bold">50</text>
<line x1="413.3" y1="212.6" x2="417.3" y2="212.6" stroke="#000" stroke-width="2" stroke-linecap="butt"/>
<text x="404.9" y="217.9" font-size="15" text-anchor="end" fill="#000" font-weight="bold">100</text>
<line x1="413.3" y1="183.8" x2="417.3" y2="183.8" stroke="#000" stroke-width="2" stroke-linecap="butt"/>
<text x="404.9" y="189.1" font-size="15" text-anchor="end" fill="#000" font-weight="bold">150</text>
<line x1="439.35" y1="270.2" x2="439.35" y2="274.2" stroke="#000" stroke-width="2" stroke-linecap="butt"/>
<line x1="461.4" y1="270.2" x2="461.4" y2="274.2" stroke="#000" stroke-width="2" stroke-linecap="butt"/>
<line x1="483.45" y1="270.2" x2="483.45" y2="274.2" stroke="#000" stroke-width="2" stroke-linecap="butt"/>
<line x1="505.5" y1="270.2" x2="505.5" y2="274.2" stroke="#000" stroke-width="2" stroke-linecap="butt"/>
<text x="428" y="292.8" font-size="15" text-anchor="middle" fill="#000" font-weight="bold">0</text>
<text x="450.05" y="292.8" font-size="15" text-anchor="middle" fill="#000" font-weight="bold">10</text>
<text x="472.1" y="292.8" font-size="15" text-anchor="middle" fill="#000" font-weight="bold">20</text>
<text x="494.15" y="292.8" font-size="15" text-anchor="middle" fill="#000" font-weight="bold">30</text>
<text x="462" y="168.7" font-size="15" text-anchor="middle" fill="#000" font-weight="bold">S</text>
<text x="357.5" y="227" font-size="14.8" text-anchor="middle" fill="#000" font-weight="bold" transform="rotate(-90 357.5 227)">Relative cell</text>
<text x="375.1" y="226.4" font-size="14.8" text-anchor="middle" fill="#000" font-weight="bold" transform="rotate(-90 375.1 226.4)">population (%)</text>
<line x1="597.7" y1="209.14" x2="597.7" y2="212.6" stroke="#000" stroke-width="2.2" stroke-linecap="butt"/>
<line x1="591" y1="209.14" x2="604.4" y2="209.14" stroke="#000" stroke-width="2.2" stroke-linecap="butt"/>
<rect x="591.9" y="212.6" width="11.6" height="57.6" fill="#fbefb8" stroke="#000" stroke-width="2.2"/>
<line x1="619.75" y1="213.64" x2="619.75" y2="215.48" stroke="#000" stroke-width="2.2" stroke-linecap="butt"/>
<line x1="613.05" y1="213.64" x2="626.45" y2="213.64" stroke="#000" stroke-width="2.2" stroke-linecap="butt"/>
<rect x="613.95" y="215.48" width="11.6" height="54.72" fill="#f5d93f" stroke="#000" stroke-width="2.2"/>
<line x1="641.8" y1="214.9" x2="641.8" y2="218.36" stroke="#000" stroke-width="2.2" stroke-linecap="butt"/>
<line x1="635.1" y1="214.9" x2="648.5" y2="214.9" stroke="#000" stroke-width="2.2" stroke-linecap="butt"/>
<rect x="636" y="218.36" width="11.6" height="51.84" fill="#8a740e" stroke="#000" stroke-width="2.2"/>
<text x="641.8" y="215.2" font-size="18.7" text-anchor="middle" fill="#000" font-weight="normal" stroke="#000" stroke-width="0.35">*</text>
<line x1="663.85" y1="218.65" x2="663.85" y2="221.82" stroke="#000" stroke-width="2.2" stroke-linecap="butt"/>
<line x1="657.15" y1="218.65" x2="670.55" y2="218.65" stroke="#000" stroke-width="2.2" stroke-linecap="butt"/>
<rect x="658.05" y="221.82" width="11.6" height="48.38" fill="#654a39" stroke="#000" stroke-width="2.2"/>
<text x="663.85" y="218.95" font-size="18.7" text-anchor="middle" fill="#000" font-weight="normal" stroke="#000" stroke-width="0.35">**</text>
<line x1="586.8" y1="182.8" x2="586.8" y2="274.2" stroke="#000" stroke-width="2" stroke-linecap="butt"/>
<line x1="581.8" y1="270.2" x2="675.3" y2="270.2" stroke="#000" stroke-width="2.2" stroke-linecap="butt"/>
<line x1="582.8" y1="270.2" x2="586.8" y2="270.2" stroke="#000" stroke-width="2" stroke-linecap="butt"/>
<text x="574.4" y="275.5" font-size="15" text-anchor="end" fill="#000" font-weight="bold">0</text>
<line x1="582.8" y1="241.4" x2="586.8" y2="241.4" stroke="#000" stroke-width="2" stroke-linecap="butt"/>
<text x="574.4" y="246.7" font-size="15" text-anchor="end" fill="#000" font-weight="bold">50</text>
<line x1="582.8" y1="212.6" x2="586.8" y2="212.6" stroke="#000" stroke-width="2" stroke-linecap="butt"/>
<text x="574.4" y="217.9" font-size="15" text-anchor="end" fill="#000" font-weight="bold">100</text>
<line x1="582.8" y1="183.8" x2="586.8" y2="183.8" stroke="#000" stroke-width="2" stroke-linecap="butt"/>
<text x="574.4" y="189.1" font-size="15" text-anchor="end" fill="#000" font-weight="bold">150</text>
<line x1="608.85" y1="270.2" x2="608.85" y2="274.2" stroke="#000" stroke-width="2" stroke-linecap="butt"/>
<line x1="630.9" y1="270.2" x2="630.9" y2="274.2" stroke="#000" stroke-width="2" stroke-linecap="butt"/>
<line x1="652.95" y1="270.2" x2="652.95" y2="274.2" stroke="#000" stroke-width="2" stroke-linecap="butt"/>
<line x1="675" y1="270.2" x2="675" y2="274.2" stroke="#000" stroke-width="2" stroke-linecap="butt"/>
<text x="597.5" y="292.8" font-size="15" text-anchor="middle" fill="#000" font-weight="bold">0</text>
<text x="619.55" y="292.8" font-size="15" text-anchor="middle" fill="#000" font-weight="bold">10</text>
<text x="641.6" y="292.8" font-size="15" text-anchor="middle" fill="#000" font-weight="bold">20</text>
<text x="663.65" y="292.8" font-size="15" text-anchor="middle" fill="#000" font-weight="bold">30</text>
<text x="631.5" y="168.7" font-size="15" text-anchor="middle" fill="#000" font-weight="bold">G<tspan font-size="10.8" dy="3.52">2</tspan><tspan dy="-3.52">&#8203;</tspan>/M</text>
<text x="527" y="227" font-size="14.8" text-anchor="middle" fill="#000" font-weight="bold" transform="rotate(-90 527 227)">Relative cell</text>
<text x="544.6" y="226.4" font-size="14.8" text-anchor="middle" fill="#000" font-weight="bold" transform="rotate(-90 544.6 226.4)">population (%)</text>
<line x1="428.2" y1="401.02" x2="428.2" y2="402.17" stroke="#000" stroke-width="2.2" stroke-linecap="butt"/>
<line x1="421.5" y1="401.02" x2="434.9" y2="401.02" stroke="#000" stroke-width="2.2" stroke-linecap="butt"/>
<rect x="422.4" y="402.17" width="11.6" height="28.73" fill="#b7e6d5" stroke="#000" stroke-width="2.2"/>
<line x1="450.25" y1="397.57" x2="450.25" y2="401.02" stroke="#000" stroke-width="2.2" stroke-linecap="butt"/>
<line x1="443.55" y1="397.57" x2="456.95" y2="397.57" stroke="#000" stroke-width="2.2" stroke-linecap="butt"/>
<rect x="444.45" y="401.02" width="11.6" height="29.88" fill="#3f9d77" stroke="#000" stroke-width="2.2"/>
<line x1="472.3" y1="388.95" x2="472.3" y2="397.28" stroke="#000" stroke-width="2.2" stroke-linecap="butt"/>
<line x1="465.6" y1="388.95" x2="479" y2="388.95" stroke="#000" stroke-width="2.2" stroke-linecap="butt"/>
<rect x="466.5" y="397.28" width="11.6" height="33.62" fill="#3c6380" stroke="#000" stroke-width="2.2"/>
<line x1="494.35" y1="356.48" x2="494.35" y2="372.28" stroke="#000" stroke-width="2.2" stroke-linecap="butt"/>
<line x1="487.65" y1="356.48" x2="501.05" y2="356.48" stroke="#000" stroke-width="2.2" stroke-linecap="butt"/>
<rect x="488.55" y="372.28" width="11.6" height="58.62" fill="#2a2f5b" stroke="#000" stroke-width="2.2"/>
<text x="494.35" y="354.38" font-size="18.7" text-anchor="middle" fill="#000" font-weight="normal" stroke="#000" stroke-width="0.35">*</text>
<line x1="417.3" y1="343.7" x2="417.3" y2="434.9" stroke="#000" stroke-width="2" stroke-linecap="butt"/>
<line x1="412.3" y1="430.9" x2="505.8" y2="430.9" stroke="#000" stroke-width="2.2" stroke-linecap="butt"/>
<line x1="413.3" y1="430.9" x2="417.3" y2="430.9" stroke="#000" stroke-width="2" stroke-linecap="butt"/>
<text x="404.9" y="436.2" font-size="15" text-anchor="end" fill="#000" font-weight="bold">0</text>
<line x1="413.3" y1="402.17" x2="417.3" y2="402.17" stroke="#000" stroke-width="2" stroke-linecap="butt"/>
<text x="404.9" y="407.47" font-size="15" text-anchor="end" fill="#000" font-weight="bold">100</text>
<line x1="413.3" y1="373.43" x2="417.3" y2="373.43" stroke="#000" stroke-width="2" stroke-linecap="butt"/>
<text x="404.9" y="378.73" font-size="15" text-anchor="end" fill="#000" font-weight="bold">200</text>
<line x1="413.3" y1="344.7" x2="417.3" y2="344.7" stroke="#000" stroke-width="2" stroke-linecap="butt"/>
<text x="404.9" y="350" font-size="15" text-anchor="end" fill="#000" font-weight="bold">300</text>
<line x1="439.35" y1="430.9" x2="439.35" y2="434.9" stroke="#000" stroke-width="2" stroke-linecap="butt"/>
<line x1="461.4" y1="430.9" x2="461.4" y2="434.9" stroke="#000" stroke-width="2" stroke-linecap="butt"/>
<line x1="483.45" y1="430.9" x2="483.45" y2="434.9" stroke="#000" stroke-width="2" stroke-linecap="butt"/>
<line x1="505.5" y1="430.9" x2="505.5" y2="434.9" stroke="#000" stroke-width="2" stroke-linecap="butt"/>
<text x="428" y="453.5" font-size="15" text-anchor="middle" fill="#000" font-weight="bold">0</text>
<text x="450.05" y="453.5" font-size="15" text-anchor="middle" fill="#000" font-weight="bold">10</text>
<text x="472.1" y="453.5" font-size="15" text-anchor="middle" fill="#000" font-weight="bold">20</text>
<text x="494.15" y="453.5" font-size="15" text-anchor="middle" fill="#000" font-weight="bold">30</text>
<text x="462" y="329.3" font-size="15" text-anchor="middle" fill="#000" font-weight="bold">SubG<tspan font-size="10.8" dy="3.52">0</tspan><tspan dy="-3.52">&#8203;</tspan></text>
<text x="357.5" y="387.8" font-size="14.8" text-anchor="middle" fill="#000" font-weight="bold" transform="rotate(-90 357.5 387.8)">Relative cell</text>
<text x="375.1" y="387.2" font-size="14.8" text-anchor="middle" fill="#000" font-weight="bold" transform="rotate(-90 375.1 387.2)">population (%)</text>
<line x1="597.7" y1="360.56" x2="597.7" y2="361.94" stroke="#000" stroke-width="2.2" stroke-linecap="butt"/>
<line x1="591" y1="360.56" x2="604.4" y2="360.56" stroke="#000" stroke-width="2.2" stroke-linecap="butt"/>
<rect x="591.9" y="361.94" width="11.6" height="68.96" fill="#b7e6d5" stroke="#000" stroke-width="2.2"/>
<line x1="619.75" y1="350.91" x2="619.75" y2="358.49" stroke="#000" stroke-width="2.2" stroke-linecap="butt"/>
<line x1="613.05" y1="350.91" x2="626.45" y2="350.91" stroke="#000" stroke-width="2.2" stroke-linecap="butt"/>
<rect x="613.95" y="358.49" width="11.6" height="72.41" fill="#3f9d77" stroke="#000" stroke-width="2.2"/>
<line x1="641.8" y1="365.59" x2="641.8" y2="366.63" stroke="#000" stroke-width="2.2" stroke-linecap="butt"/>
<line x1="635.1" y1="365.59" x2="648.5" y2="365.59" stroke="#000" stroke-width="2.2" stroke-linecap="butt"/>
<rect x="636" y="366.63" width="11.6" height="64.27" fill="#3c6380" stroke="#000" stroke-width="2.2"/>
<text x="641.8" y="365.89" font-size="18.7" text-anchor="middle" fill="#000" font-weight="normal" stroke="#000" stroke-width="0.35">***</text>
<line x1="663.85" y1="368.49" x2="663.85" y2="373.32" stroke="#000" stroke-width="2.2" stroke-linecap="butt"/>
<line x1="657.15" y1="368.49" x2="670.55" y2="368.49" stroke="#000" stroke-width="2.2" stroke-linecap="butt"/>
<rect x="658.05" y="373.32" width="11.6" height="57.58" fill="#2a2f5b" stroke="#000" stroke-width="2.2"/>
<text x="663.85" y="368.79" font-size="18.7" text-anchor="middle" fill="#000" font-weight="normal" stroke="#000" stroke-width="0.35">**</text>
<line x1="586.8" y1="343.7" x2="586.8" y2="434.9" stroke="#000" stroke-width="2" stroke-linecap="butt"/>
<line x1="581.8" y1="430.9" x2="675.3" y2="430.9" stroke="#000" stroke-width="2.2" stroke-linecap="butt"/>
<line x1="582.8" y1="430.9" x2="586.8" y2="430.9" stroke="#000" stroke-width="2" stroke-linecap="butt"/>
<text x="574.4" y="436.2" font-size="15" text-anchor="end" fill="#000" font-weight="bold">0</text>
<line x1="582.8" y1="413.66" x2="586.8" y2="413.66" stroke="#000" stroke-width="2" stroke-linecap="butt"/>
<text x="574.4" y="418.96" font-size="15" text-anchor="end" fill="#000" font-weight="bold">25</text>
<line x1="582.8" y1="396.42" x2="586.8" y2="396.42" stroke="#000" stroke-width="2" stroke-linecap="butt"/>
<text x="574.4" y="401.72" font-size="15" text-anchor="end" fill="#000" font-weight="bold">50</text>
<line x1="582.8" y1="379.18" x2="586.8" y2="379.18" stroke="#000" stroke-width="2" stroke-linecap="butt"/>
<text x="574.4" y="384.48" font-size="15" text-anchor="end" fill="#000" font-weight="bold">75</text>
<line x1="582.8" y1="361.94" x2="586.8" y2="361.94" stroke="#000" stroke-width="2" stroke-linecap="butt"/>
<text x="574.4" y="367.24" font-size="15" text-anchor="end" fill="#000" font-weight="bold">100</text>
<line x1="582.8" y1="344.7" x2="586.8" y2="344.7" stroke="#000" stroke-width="2" stroke-linecap="butt"/>
<text x="574.4" y="350" font-size="15" text-anchor="end" fill="#000" font-weight="bold">125</text>
<line x1="608.85" y1="430.9" x2="608.85" y2="434.9" stroke="#000" stroke-width="2" stroke-linecap="butt"/>
<line x1="630.9" y1="430.9" x2="630.9" y2="434.9" stroke="#000" stroke-width="2" stroke-linecap="butt"/>
<line x1="652.95" y1="430.9" x2="652.95" y2="434.9" stroke="#000" stroke-width="2" stroke-linecap="butt"/>
<line x1="675" y1="430.9" x2="675" y2="434.9" stroke="#000" stroke-width="2" stroke-linecap="butt"/>
<text x="597.5" y="453.5" font-size="15" text-anchor="middle" fill="#000" font-weight="bold">0</text>
<text x="619.55" y="453.5" font-size="15" text-anchor="middle" fill="#000" font-weight="bold">10</text>
<text x="641.6" y="453.5" font-size="15" text-anchor="middle" fill="#000" font-weight="bold">20</text>
<text x="663.65" y="453.5" font-size="15" text-anchor="middle" fill="#000" font-weight="bold">30</text>
<text x="631.5" y="329.3" font-size="15" text-anchor="middle" fill="#000" font-weight="bold">G<tspan font-size="10.8" dy="3.52">0</tspan><tspan dy="-3.52">&#8203;</tspan>/G<tspan font-size="10.8" dy="3.52">1</tspan><tspan dy="-3.52">&#8203;</tspan></text>
<text x="527" y="387.8" font-size="14.8" text-anchor="middle" fill="#000" font-weight="bold" transform="rotate(-90 527 387.8)">Relative cell</text>
<text x="544.6" y="387.2" font-size="14.8" text-anchor="middle" fill="#000" font-weight="bold" transform="rotate(-90 544.6 387.2)">population (%)</text>
<line x1="428.2" y1="519.15" x2="428.2" y2="519.84" stroke="#000" stroke-width="2.2" stroke-linecap="butt"/>
<line x1="421.5" y1="519.15" x2="434.9" y2="519.15" stroke="#000" stroke-width="2.2" stroke-linecap="butt"/>
<rect x="422.4" y="519.84" width="11.6" height="68.96" fill="#b7e6d5" stroke="#000" stroke-width="2.2"/>
<line x1="450.25" y1="521.22" x2="450.25" y2="522.6" stroke="#000" stroke-width="2.2" stroke-linecap="butt"/>
<line x1="443.55" y1="521.22" x2="456.95" y2="521.22" stroke="#000" stroke-width="2.2" stroke-linecap="butt"/>
<rect x="444.45" y="522.6" width="11.6" height="66.2" fill="#3f9d77" stroke="#000" stroke-width="2.2"/>
<text x="450.25" y="520.32" font-size="18.7" text-anchor="middle" fill="#000" font-weight="normal" stroke="#000" stroke-width="0.35">*</text>
<line x1="472.3" y1="525.36" x2="472.3" y2="529.49" stroke="#000" stroke-width="2.2" stroke-linecap="butt"/>
<line x1="465.6" y1="525.36" x2="479" y2="525.36" stroke="#000" stroke-width="2.2" stroke-linecap="butt"/>
<rect x="466.5" y="529.49" width="11.6" height="59.31" fill="#3c6380" stroke="#000" stroke-width="2.2"/>
<text x="472.3" y="524.46" font-size="18.7" text-anchor="middle" fill="#000" font-weight="normal" stroke="#000" stroke-width="0.35">**</text>
<line x1="494.35" y1="538.11" x2="494.35" y2="539.15" stroke="#000" stroke-width="2.2" stroke-linecap="butt"/>
<line x1="487.65" y1="538.11" x2="501.05" y2="538.11" stroke="#000" stroke-width="2.2" stroke-linecap="butt"/>
<rect x="488.55" y="539.15" width="11.6" height="49.65" fill="#2a2f5b" stroke="#000" stroke-width="2.2"/>
<text x="494.35" y="537.21" font-size="18.7" text-anchor="middle" fill="#000" font-weight="normal" stroke="#000" stroke-width="0.35">***</text>
<line x1="417.3" y1="501.6" x2="417.3" y2="592.8" stroke="#000" stroke-width="2" stroke-linecap="butt"/>
<line x1="412.3" y1="588.8" x2="505.8" y2="588.8" stroke="#000" stroke-width="2.2" stroke-linecap="butt"/>
<line x1="413.3" y1="588.8" x2="417.3" y2="588.8" stroke="#000" stroke-width="2" stroke-linecap="butt"/>
<text x="404.9" y="594.1" font-size="15" text-anchor="end" fill="#000" font-weight="bold">0</text>
<line x1="413.3" y1="571.56" x2="417.3" y2="571.56" stroke="#000" stroke-width="2" stroke-linecap="butt"/>
<text x="404.9" y="576.86" font-size="15" text-anchor="end" fill="#000" font-weight="bold">25</text>
<line x1="413.3" y1="554.32" x2="417.3" y2="554.32" stroke="#000" stroke-width="2" stroke-linecap="butt"/>
<text x="404.9" y="559.62" font-size="15" text-anchor="end" fill="#000" font-weight="bold">50</text>
<line x1="413.3" y1="537.08" x2="417.3" y2="537.08" stroke="#000" stroke-width="2" stroke-linecap="butt"/>
<text x="404.9" y="542.38" font-size="15" text-anchor="end" fill="#000" font-weight="bold">75</text>
<line x1="413.3" y1="519.84" x2="417.3" y2="519.84" stroke="#000" stroke-width="2" stroke-linecap="butt"/>
<text x="404.9" y="525.14" font-size="15" text-anchor="end" fill="#000" font-weight="bold">100</text>
<line x1="413.3" y1="502.6" x2="417.3" y2="502.6" stroke="#000" stroke-width="2" stroke-linecap="butt"/>
<text x="404.9" y="507.9" font-size="15" text-anchor="end" fill="#000" font-weight="bold">125</text>
<line x1="439.35" y1="588.8" x2="439.35" y2="592.8" stroke="#000" stroke-width="2" stroke-linecap="butt"/>
<line x1="461.4" y1="588.8" x2="461.4" y2="592.8" stroke="#000" stroke-width="2" stroke-linecap="butt"/>
<line x1="483.45" y1="588.8" x2="483.45" y2="592.8" stroke="#000" stroke-width="2" stroke-linecap="butt"/>
<line x1="505.5" y1="588.8" x2="505.5" y2="592.8" stroke="#000" stroke-width="2" stroke-linecap="butt"/>
<text x="428" y="611.4" font-size="15" text-anchor="middle" fill="#000" font-weight="bold">0</text>
<text x="450.05" y="611.4" font-size="15" text-anchor="middle" fill="#000" font-weight="bold">10</text>
<text x="472.1" y="611.4" font-size="15" text-anchor="middle" fill="#000" font-weight="bold">20</text>
<text x="494.15" y="611.4" font-size="15" text-anchor="middle" fill="#000" font-weight="bold">30</text>
<text x="462" y="487.6" font-size="15" text-anchor="middle" fill="#000" font-weight="bold">S</text>
<text x="357.5" y="545.7" font-size="14.8" text-anchor="middle" fill="#000" font-weight="bold" transform="rotate(-90 357.5 545.7)">Relative cell</text>
<text x="375.1" y="545.1" font-size="14.8" text-anchor="middle" fill="#000" font-weight="bold" transform="rotate(-90 375.1 545.1)">population (%)</text>
<line x1="597.7" y1="516.39" x2="597.7" y2="519.84" stroke="#000" stroke-width="2.2" stroke-linecap="butt"/>
<line x1="591" y1="516.39" x2="604.4" y2="516.39" stroke="#000" stroke-width="2.2" stroke-linecap="butt"/>
<rect x="591.9" y="519.84" width="11.6" height="68.96" fill="#b7e6d5" stroke="#000" stroke-width="2.2"/>
<line x1="619.75" y1="519.15" x2="619.75" y2="522.6" stroke="#000" stroke-width="2.2" stroke-linecap="butt"/>
<line x1="613.05" y1="519.15" x2="626.45" y2="519.15" stroke="#000" stroke-width="2.2" stroke-linecap="butt"/>
<rect x="613.95" y="522.6" width="11.6" height="66.2" fill="#3f9d77" stroke="#000" stroke-width="2.2"/>
<line x1="641.8" y1="516.74" x2="641.8" y2="520.53" stroke="#000" stroke-width="2.2" stroke-linecap="butt"/>
<line x1="635.1" y1="516.74" x2="648.5" y2="516.74" stroke="#000" stroke-width="2.2" stroke-linecap="butt"/>
<rect x="636" y="520.53" width="11.6" height="68.27" fill="#3c6380" stroke="#000" stroke-width="2.2"/>
<line x1="663.85" y1="525.01" x2="663.85" y2="528.8" stroke="#000" stroke-width="2.2" stroke-linecap="butt"/>
<line x1="657.15" y1="525.01" x2="670.55" y2="525.01" stroke="#000" stroke-width="2.2" stroke-linecap="butt"/>
<rect x="658.05" y="528.8" width="11.6" height="60" fill="#2a2f5b" stroke="#000" stroke-width="2.2"/>
<text x="663.85" y="525.31" font-size="18.7" text-anchor="middle" fill="#000" font-weight="normal" stroke="#000" stroke-width="0.35">**</text>
<line x1="586.8" y1="501.6" x2="586.8" y2="592.8" stroke="#000" stroke-width="2" stroke-linecap="butt"/>
<line x1="581.8" y1="588.8" x2="675.3" y2="588.8" stroke="#000" stroke-width="2.2" stroke-linecap="butt"/>
<line x1="582.8" y1="588.8" x2="586.8" y2="588.8" stroke="#000" stroke-width="2" stroke-linecap="butt"/>
<text x="574.4" y="594.1" font-size="15" text-anchor="end" fill="#000" font-weight="bold">0</text>
<line x1="582.8" y1="571.56" x2="586.8" y2="571.56" stroke="#000" stroke-width="2" stroke-linecap="butt"/>
<text x="574.4" y="576.86" font-size="15" text-anchor="end" fill="#000" font-weight="bold">25</text>
<line x1="582.8" y1="554.32" x2="586.8" y2="554.32" stroke="#000" stroke-width="2" stroke-linecap="butt"/>
<text x="574.4" y="559.62" font-size="15" text-anchor="end" fill="#000" font-weight="bold">50</text>
<line x1="582.8" y1="537.08" x2="586.8" y2="537.08" stroke="#000" stroke-width="2" stroke-linecap="butt"/>
<text x="574.4" y="542.38" font-size="15" text-anchor="end" fill="#000" font-weight="bold">75</text>
<line x1="582.8" y1="519.84" x2="586.8" y2="519.84" stroke="#000" stroke-width="2" stroke-linecap="butt"/>
<text x="574.4" y="525.14" font-size="15" text-anchor="end" fill="#000" font-weight="bold">100</text>
<line x1="582.8" y1="502.6" x2="586.8" y2="502.6" stroke="#000" stroke-width="2" stroke-linecap="butt"/>
<text x="574.4" y="507.9" font-size="15" text-anchor="end" fill="#000" font-weight="bold">125</text>
<line x1="608.85" y1="588.8" x2="608.85" y2="592.8" stroke="#000" stroke-width="2" stroke-linecap="butt"/>
<line x1="630.9" y1="588.8" x2="630.9" y2="592.8" stroke="#000" stroke-width="2" stroke-linecap="butt"/>
<line x1="652.95" y1="588.8" x2="652.95" y2="592.8" stroke="#000" stroke-width="2" stroke-linecap="butt"/>
<line x1="675" y1="588.8" x2="675" y2="592.8" stroke="#000" stroke-width="2" stroke-linecap="butt"/>
<text x="597.5" y="611.4" font-size="15" text-anchor="middle" fill="#000" font-weight="bold">0</text>
<text x="619.55" y="611.4" font-size="15" text-anchor="middle" fill="#000" font-weight="bold">10</text>
<text x="641.6" y="611.4" font-size="15" text-anchor="middle" fill="#000" font-weight="bold">20</text>
<text x="663.65" y="611.4" font-size="15" text-anchor="middle" fill="#000" font-weight="bold">30</text>
<text x="631.5" y="487.6" font-size="15" text-anchor="middle" fill="#000" font-weight="bold">G<tspan font-size="10.8" dy="3.52">2</tspan><tspan dy="-3.52">&#8203;</tspan>/M</text>
<text x="527" y="545.7" font-size="14.8" text-anchor="middle" fill="#000" font-weight="bold" transform="rotate(-90 527 545.7)">Relative cell</text>
<text x="544.6" y="545.1" font-size="14.8" text-anchor="middle" fill="#000" font-weight="bold" transform="rotate(-90 544.6 545.1)">population (%)</text>
<text x="0.1" y="652.9" font-size="19.6" text-anchor="start" fill="#000" font-weight="bold" stroke="#000" stroke-width="0.3">[C]</text>
<rect x="94.25" y="647.45" width="588.7" height="25.9" fill="#f4ce18" stroke="#000" stroke-width="2.3"/>
<text x="389.1" y="665.9" font-size="15" text-anchor="middle" fill="#000" font-weight="bold">HTR-8/SVneo</text>
<line x1="118.4" y1="699.79" x2="118.4" y2="705.37" stroke="#000" stroke-width="2.2" stroke-linecap="butt"/>
<line x1="107.5" y1="699.79" x2="129.3" y2="699.79" stroke="#000" stroke-width="2.2" stroke-linecap="butt"/>
<rect x="108.6" y="705.37" width="19.6" height="50.73" fill="#fbefb8" stroke="#000" stroke-width="2.2"/>
<line x1="143.4" y1="713.23" x2="143.4" y2="714.75" stroke="#000" stroke-width="2.2" stroke-linecap="butt"/>
<line x1="132.5" y1="713.23" x2="154.3" y2="713.23" stroke="#000" stroke-width="2.2" stroke-linecap="butt"/>
<rect x="133.6" y="714.75" width="19.6" height="41.35" fill="#654a39" stroke="#000" stroke-width="2.2"/>
<text x="143.4" y="713.23" font-size="18.7" text-anchor="middle" fill="#000" font-weight="normal" stroke="#000" stroke-width="0.35">*</text>
<text x="129.09" y="778.5" font-size="15" text-anchor="middle" fill="#000" font-weight="bold" font-style="italic">CCNA2</text>
<line x1="191.79" y1="701.82" x2="191.79" y2="705.37" stroke="#000" stroke-width="2.2" stroke-linecap="butt"/>
<line x1="180.89" y1="701.82" x2="202.69" y2="701.82" stroke="#000" stroke-width="2.2" stroke-linecap="butt"/>
<rect x="181.99" y="705.37" width="19.6" height="50.73" fill="#fbefb8" stroke="#000" stroke-width="2.2"/>
<line x1="216.79" y1="719.83" x2="216.79" y2="721.6" stroke="#000" stroke-width="2.2" stroke-linecap="butt"/>
<line x1="205.89" y1="719.83" x2="227.69" y2="719.83" stroke="#000" stroke-width="2.2" stroke-linecap="butt"/>
<rect x="206.99" y="721.6" width="19.6" height="34.5" fill="#654a39" stroke="#000" stroke-width="2.2"/>
<text x="216.79" y="719.83" font-size="18.7" text-anchor="middle" fill="#000" font-weight="normal" stroke="#000" stroke-width="0.35">***</text>
<text x="202.49" y="778.5" font-size="15" text-anchor="middle" fill="#000" font-weight="bold" font-style="italic">CCNB1</text>
<line x1="265.18" y1="699.28" x2="265.18" y2="705.37" stroke="#000" stroke-width="2.2" stroke-linecap="butt"/>
<line x1="254.28" y1="699.28" x2="276.08" y2="699.28" stroke="#000" stroke-width="2.2" stroke-linecap="butt"/>
<rect x="255.38" y="705.37" width="19.6" height="50.73" fill="#fbefb8" stroke="#000" stroke-width="2.2"/>
<line x1="290.18" y1="734.03" x2="290.18" y2="737.58" stroke="#000" stroke-width="2.2" stroke-linecap="butt"/>
<line x1="279.28" y1="734.03" x2="301.08" y2="734.03" stroke="#000" stroke-width="2.2" stroke-linecap="butt"/>
<rect x="280.38" y="737.58" width="19.6" height="18.52" fill="#654a39" stroke="#000" stroke-width="2.2"/>
<text x="290.18" y="734.03" font-size="18.7" text-anchor="middle" fill="#000" font-weight="normal" stroke="#000" stroke-width="0.35">***</text>
<text x="275.88" y="778.5" font-size="15" text-anchor="middle" fill="#000" font-weight="bold" font-style="italic">CCND1</text>
<line x1="338.57" y1="702.32" x2="338.57" y2="705.37" stroke="#000" stroke-width="2.2" stroke-linecap="butt"/>
<line x1="327.67" y1="702.32" x2="349.47" y2="702.32" stroke="#000" stroke-width="2.2" stroke-linecap="butt"/>
<rect x="328.77" y="705.37" width="19.6" height="50.73" fill="#fbefb8" stroke="#000" stroke-width="2.2"/>
<line x1="363.57" y1="715.51" x2="363.57" y2="719.06" stroke="#000" stroke-width="2.2" stroke-linecap="butt"/>
<line x1="352.67" y1="715.51" x2="374.47" y2="715.51" stroke="#000" stroke-width="2.2" stroke-linecap="butt"/>
<rect x="353.77" y="719.06" width="19.6" height="37.04" fill="#654a39" stroke="#000" stroke-width="2.2"/>
<text x="363.57" y="715.51" font-size="18.7" text-anchor="middle" fill="#000" font-weight="normal" stroke="#000" stroke-width="0.35">**</text>
<text x="349.27" y="778.5" font-size="15" text-anchor="middle" fill="#000" font-weight="bold" font-style="italic">CCNE2</text>
<line x1="411.96" y1="701.82" x2="411.96" y2="705.37" stroke="#000" stroke-width="2.2" stroke-linecap="butt"/>
<line x1="401.06" y1="701.82" x2="422.86" y2="701.82" stroke="#000" stroke-width="2.2" stroke-linecap="butt"/>
<rect x="402.16" y="705.37" width="19.6" height="50.73" fill="#fbefb8" stroke="#000" stroke-width="2.2"/>
<line x1="436.96" y1="715.01" x2="436.96" y2="716.53" stroke="#000" stroke-width="2.2" stroke-linecap="butt"/>
<line x1="426.06" y1="715.01" x2="447.86" y2="715.01" stroke="#000" stroke-width="2.2" stroke-linecap="butt"/>
<rect x="427.16" y="716.53" width="19.6" height="39.57" fill="#654a39" stroke="#000" stroke-width="2.2"/>
<text x="436.96" y="715.01" font-size="18.7" text-anchor="middle" fill="#000" font-weight="normal" stroke="#000" stroke-width="0.35">**</text>
<text x="420.46" y="778.5" font-size="15" text-anchor="middle" fill="#000" font-weight="bold" font-style="italic">CDK1</text>
<line x1="485.35" y1="702.32" x2="485.35" y2="705.37" stroke="#000" stroke-width="2.2" stroke-linecap="butt"/>
<line x1="474.45" y1="702.32" x2="496.25" y2="702.32" stroke="#000" stroke-width="2.2" stroke-linecap="butt"/>
<rect x="475.55" y="705.37" width="19.6" height="50.73" fill="#fbefb8" stroke="#000" stroke-width="2.2"/>
<line x1="510.35" y1="706.38" x2="510.35" y2="710.44" stroke="#000" stroke-width="2.2" stroke-linecap="butt"/>
<line x1="499.45" y1="706.38" x2="521.25" y2="706.38" stroke="#000" stroke-width="2.2" stroke-linecap="butt"/>
<rect x="500.55" y="710.44" width="19.6" height="45.66" fill="#654a39" stroke="#000" stroke-width="2.2"/>
<text x="493.85" y="778.5" font-size="15" text-anchor="middle" fill="#000" font-weight="bold" font-style="italic">CDK2</text>
<line x1="558.74" y1="700.29" x2="558.74" y2="705.37" stroke="#000" stroke-width="2.2" stroke-linecap="butt"/>
<line x1="547.84" y1="700.29" x2="569.64" y2="700.29" stroke="#000" stroke-width="2.2" stroke-linecap="butt"/>
<rect x="548.94" y="705.37" width="19.6" height="50.73" fill="#fbefb8" stroke="#000" stroke-width="2.2"/>
<line x1="583.74" y1="724.65" x2="583.74" y2="726.17" stroke="#000" stroke-width="2.2" stroke-linecap="butt"/>
<line x1="572.84" y1="724.65" x2="594.64" y2="724.65" stroke="#000" stroke-width="2.2" stroke-linecap="butt"/>
<rect x="573.94" y="726.17" width="19.6" height="29.93" fill="#654a39" stroke="#000" stroke-width="2.2"/>
<text x="583.74" y="724.65" font-size="18.7" text-anchor="middle" fill="#000" font-weight="normal" stroke="#000" stroke-width="0.35">***</text>
<text x="567.24" y="778.5" font-size="15" text-anchor="middle" fill="#000" font-weight="bold" font-style="italic">CDK4</text>
<line x1="632.13" y1="704.86" x2="632.13" y2="705.37" stroke="#000" stroke-width="2.2" stroke-linecap="butt"/>
<line x1="621.23" y1="704.86" x2="643.03" y2="704.86" stroke="#000" stroke-width="2.2" stroke-linecap="butt"/>
<rect x="622.33" y="705.37" width="19.6" height="50.73" fill="#fbefb8" stroke="#000" stroke-width="2.2"/>
<line x1="657.13" y1="710.44" x2="657.13" y2="714.5" stroke="#000" stroke-width="2.2" stroke-linecap="butt"/>
<line x1="646.23" y1="710.44" x2="668.03" y2="710.44" stroke="#000" stroke-width="2.2" stroke-linecap="butt"/>
<rect x="647.33" y="714.5" width="19.6" height="41.6" fill="#654a39" stroke="#000" stroke-width="2.2"/>
<text x="657.13" y="710.44" font-size="18.7" text-anchor="middle" fill="#000" font-weight="normal" stroke="#000" stroke-width="0.35">**</text>
<text x="640.62" y="778.5" font-size="15" text-anchor="middle" fill="#000" font-weight="bold" font-style="italic">CDK6</text>
<line x1="94.4" y1="678.9" x2="94.4" y2="761" stroke="#000" stroke-width="2.3" stroke-linecap="butt"/>
<line x1="89.8" y1="756.1" x2="682.62" y2="756.1" stroke="#000" stroke-width="2.3" stroke-linecap="butt"/>
<line x1="167.79" y1="756.1" x2="167.79" y2="761" stroke="#000" stroke-width="2.2" stroke-linecap="butt"/>
<line x1="241.18" y1="756.1" x2="241.18" y2="761" stroke="#000" stroke-width="2.2" stroke-linecap="butt"/>
<line x1="314.57" y1="756.1" x2="314.57" y2="761" stroke="#000" stroke-width="2.2" stroke-linecap="butt"/>
<line x1="387.96" y1="756.1" x2="387.96" y2="761" stroke="#000" stroke-width="2.2" stroke-linecap="butt"/>
<line x1="461.35" y1="756.1" x2="461.35" y2="761" stroke="#000" stroke-width="2.2" stroke-linecap="butt"/>
<line x1="534.74" y1="756.1" x2="534.74" y2="761" stroke="#000" stroke-width="2.2" stroke-linecap="butt"/>
<line x1="608.13" y1="756.1" x2="608.13" y2="761" stroke="#000" stroke-width="2.2" stroke-linecap="butt"/>
<line x1="681.52" y1="756.1" x2="681.52" y2="761" stroke="#000" stroke-width="2.2" stroke-linecap="butt"/>
<line x1="89.8" y1="756.1" x2="94.4" y2="756.1" stroke="#000" stroke-width="2.2" stroke-linecap="butt"/>
<text x="81.5" y="761.4" font-size="15" text-anchor="end" fill="#000" font-weight="bold">0</text>
<line x1="89.8" y1="730.73" x2="94.4" y2="730.73" stroke="#000" stroke-width="2.2" stroke-linecap="butt"/>
<text x="81.5" y="736.03" font-size="15" text-anchor="end" fill="#000" font-weight="bold">50</text>
<line x1="89.8" y1="705.37" x2="94.4" y2="705.37" stroke="#000" stroke-width="2.2" stroke-linecap="butt"/>
<text x="81.5" y="710.67" font-size="15" text-anchor="end" fill="#000" font-weight="bold">100</text>
<line x1="89.8" y1="680" x2="94.4" y2="680" stroke="#000" stroke-width="2.2" stroke-linecap="butt"/>
<text x="81.5" y="685.3" font-size="15" text-anchor="end" fill="#000" font-weight="bold">150</text>
<text x="31.2" y="719.55" font-size="14.8" text-anchor="middle" fill="#000" font-weight="bold" transform="rotate(-90 31.2 719.55)">Relative mRNA</text>
<text x="49.4" y="719.55" font-size="14.8" text-anchor="middle" fill="#000" font-weight="bold" transform="rotate(-90 49.4 719.55)">expression (%)</text>
<rect x="312.8" y="793.8" width="7.6" height="7.6" fill="#fbefb8" stroke="#000" stroke-width="2.2"/>
<text x="322.9" y="803.6" font-size="15" text-anchor="start" fill="#000" font-weight="bold">0</text>
<rect x="342" y="793.8" width="7.6" height="7.6" fill="#654a39" stroke="#000" stroke-width="2.2"/>
<text x="352.2" y="803.6" font-size="15" text-anchor="start" fill="#000" font-weight="bold">30 Flutriafol (µg/mL)</text>
<text x="0.1" y="847.7" font-size="19.6" text-anchor="start" fill="#000" font-weight="bold" stroke="#000" stroke-width="0.3">[D]</text>
<rect x="94.25" y="842.25" width="588.7" height="24.6" fill="#a9e0ce" stroke="#000" stroke-width="2.3"/>
<text x="389.1" y="860.05" font-size="15" text-anchor="middle" fill="#000" font-weight="bold">JEG-3</text>
<line x1="118.4" y1="898.84" x2="118.4" y2="899.86" stroke="#000" stroke-width="2.2" stroke-linecap="butt"/>
<line x1="107.5" y1="898.84" x2="129.3" y2="898.84" stroke="#000" stroke-width="2.2" stroke-linecap="butt"/>
<rect x="108.6" y="899.86" width="19.6" height="51.24" fill="#a9e0ce" stroke="#000" stroke-width="2.2"/>
<line x1="143.4" y1="910.77" x2="143.4" y2="912.8" stroke="#000" stroke-width="2.2" stroke-linecap="butt"/>
<line x1="132.5" y1="910.77" x2="154.3" y2="910.77" stroke="#000" stroke-width="2.2" stroke-linecap="butt"/>
<rect x="133.6" y="912.8" width="19.6" height="38.3" fill="#2a2f5b" stroke="#000" stroke-width="2.2"/>
<text x="143.4" y="910.77" font-size="18.7" text-anchor="middle" fill="#000" font-weight="normal" stroke="#000" stroke-width="0.35">***</text>
<text x="129.09" y="973.5" font-size="15" text-anchor="middle" fill="#000" font-weight="bold" font-style="italic">CCNA2</text>
<line x1="191.79" y1="899.35" x2="191.79" y2="899.86" stroke="#000" stroke-width="2.2" stroke-linecap="butt"/>
<line x1="180.89" y1="899.35" x2="202.69" y2="899.35" stroke="#000" stroke-width="2.2" stroke-linecap="butt"/>
<rect x="181.99" y="899.86" width="19.6" height="51.24" fill="#a9e0ce" stroke="#000" stroke-width="2.2"/>
<line x1="216.79" y1="905.95" x2="216.79" y2="913.05" stroke="#000" stroke-width="2.2" stroke-linecap="butt"/>
<line x1="205.89" y1="905.95" x2="227.69" y2="905.95" stroke="#000" stroke-width="2.2" stroke-linecap="butt"/>
<rect x="206.99" y="913.05" width="19.6" height="38.05" fill="#2a2f5b" stroke="#000" stroke-width="2.2"/>
<text x="216.79" y="905.95" font-size="18.7" text-anchor="middle" fill="#000" font-weight="normal" stroke="#000" stroke-width="0.35">*</text>
<text x="202.49" y="973.5" font-size="15" text-anchor="middle" fill="#000" font-weight="bold" font-style="italic">CCNB1</text>
<line x1="265.18" y1="898.34" x2="265.18" y2="899.86" stroke="#000" stroke-width="2.2" stroke-linecap="butt"/>
<line x1="254.28" y1="898.34" x2="276.08" y2="898.34" stroke="#000" stroke-width="2.2" stroke-linecap="butt"/>
<rect x="255.38" y="899.86" width="19.6" height="51.24" fill="#a9e0ce" stroke="#000" stroke-width="2.2"/>
<line x1="290.18" y1="920.91" x2="290.18" y2="925.73" stroke="#000" stroke-width="2.2" stroke-linecap="butt"/>
<line x1="279.28" y1="920.91" x2="301.08" y2="920.91" stroke="#000" stroke-width="2.2" stroke-linecap="butt"/>
<rect x="280.38" y="925.73" width="19.6" height="25.37" fill="#2a2f5b" stroke="#000" stroke-width="2.2"/>
<text x="290.18" y="920.91" font-size="18.7" text-anchor="middle" fill="#000" font-weight="normal" stroke="#000" stroke-width="0.35">***</text>
<text x="275.88" y="973.5" font-size="15" text-anchor="middle" fill="#000" font-weight="bold" font-style="italic">CCND1</text>
<line x1="338.57" y1="890.22" x2="338.57" y2="900.37" stroke="#000" stroke-width="2.2" stroke-linecap="butt"/>
<line x1="327.67" y1="890.22" x2="349.47" y2="890.22" stroke="#000" stroke-width="2.2" stroke-linecap="butt"/>
<rect x="328.77" y="900.37" width="19.6" height="50.73" fill="#a9e0ce" stroke="#000" stroke-width="2.2"/>
<line x1="363.57" y1="892.76" x2="363.57" y2="899.35" stroke="#000" stroke-width="2.2" stroke-linecap="butt"/>
<line x1="352.67" y1="892.76" x2="374.47" y2="892.76" stroke="#000" stroke-width="2.2" stroke-linecap="butt"/>
<rect x="353.77" y="899.35" width="19.6" height="51.75" fill="#2a2f5b" stroke="#000" stroke-width="2.2"/>
<text x="349.27" y="973.5" font-size="15" text-anchor="middle" fill="#000" font-weight="bold" font-style="italic">CCNE2</text>
<line x1="411.96" y1="893.26" x2="411.96" y2="900.37" stroke="#000" stroke-width="2.2" stroke-linecap="butt"/>
<line x1="401.06" y1="893.26" x2="422.86" y2="893.26" stroke="#000" stroke-width="2.2" stroke-linecap="butt"/>
<rect x="402.16" y="900.37" width="19.6" height="50.73" fill="#a9e0ce" stroke="#000" stroke-width="2.2"/>
<line x1="436.96" y1="920.15" x2="436.96" y2="923.45" stroke="#000" stroke-width="2.2" stroke-linecap="butt"/>
<line x1="426.06" y1="920.15" x2="447.86" y2="920.15" stroke="#000" stroke-width="2.2" stroke-linecap="butt"/>
<rect x="427.16" y="923.45" width="19.6" height="27.65" fill="#2a2f5b" stroke="#000" stroke-width="2.2"/>
<text x="436.96" y="920.15" font-size="18.7" text-anchor="middle" fill="#000" font-weight="normal" stroke="#000" stroke-width="0.35">**</text>
<text x="420.46" y="973.5" font-size="15" text-anchor="middle" fill="#000" font-weight="bold" font-style="italic">CDK1</text>
<line x1="485.35" y1="896.82" x2="485.35" y2="900.37" stroke="#000" stroke-width="2.2" stroke-linecap="butt"/>
<line x1="474.45" y1="896.82" x2="496.25" y2="896.82" stroke="#000" stroke-width="2.2" stroke-linecap="butt"/>
<rect x="475.55" y="900.37" width="19.6" height="50.73" fill="#a9e0ce" stroke="#000" stroke-width="2.2"/>
<line x1="510.35" y1="932.08" x2="510.35" y2="933.6" stroke="#000" stroke-width="2.2" stroke-linecap="butt"/>
<line x1="499.45" y1="932.08" x2="521.25" y2="932.08" stroke="#000" stroke-width="2.2" stroke-linecap="butt"/>
<rect x="500.55" y="933.6" width="19.6" height="17.5" fill="#2a2f5b" stroke="#000" stroke-width="2.2"/>
<text x="510.35" y="932.08" font-size="18.7" text-anchor="middle" fill="#000" font-weight="normal" stroke="#000" stroke-width="0.35">***</text>
<text x="493.85" y="973.5" font-size="15" text-anchor="middle" fill="#000" font-weight="bold" font-style="italic">CDK2</text>
<line x1="558.74" y1="893.26" x2="558.74" y2="900.37" stroke="#000" stroke-width="2.2" stroke-linecap="butt"/>
<line x1="547.84" y1="893.26" x2="569.64" y2="893.26" stroke="#000" stroke-width="2.2" stroke-linecap="butt"/>
<rect x="548.94" y="900.37" width="19.6" height="50.73" fill="#a9e0ce" stroke="#000" stroke-width="2.2"/>
<line x1="583.74" y1="882.61" x2="583.74" y2="895.29" stroke="#000" stroke-width="2.2" stroke-linecap="butt"/>
<line x1="572.84" y1="882.61" x2="594.64" y2="882.61" stroke="#000" stroke-width="2.2" stroke-linecap="butt"/>
<rect x="573.94" y="895.29" width="19.6" height="55.81" fill="#2a2f5b" stroke="#000" stroke-width="2.2"/>
<text x="567.24" y="973.5" font-size="15" text-anchor="middle" fill="#000" font-weight="bold" font-style="italic">CDK4</text>
<line x1="632.13" y1="892.76" x2="632.13" y2="900.37" stroke="#000" stroke-width="2.2" stroke-linecap="butt"/>
<line x1="621.23" y1="892.76" x2="643.03" y2="892.76" stroke="#000" stroke-width="2.2" stroke-linecap="butt"/>
<rect x="622.33" y="900.37" width="19.6" height="50.73" fill="#a9e0ce" stroke="#000" stroke-width="2.2"/>
<line x1="657.13" y1="922.94" x2="657.13" y2="925.23" stroke="#000" stroke-width="2.2" stroke-linecap="butt"/>
<line x1="646.23" y1="922.94" x2="668.03" y2="922.94" stroke="#000" stroke-width="2.2" stroke-linecap="butt"/>
<rect x="647.33" y="925.23" width="19.6" height="25.87" fill="#2a2f5b" stroke="#000" stroke-width="2.2"/>
<text x="657.13" y="922.94" font-size="18.7" text-anchor="middle" fill="#000" font-weight="normal" stroke="#000" stroke-width="0.35">**</text>
<text x="640.62" y="973.5" font-size="15" text-anchor="middle" fill="#000" font-weight="bold" font-style="italic">CDK6</text>
<line x1="94.4" y1="873.9" x2="94.4" y2="956" stroke="#000" stroke-width="2.3" stroke-linecap="butt"/>
<line x1="89.8" y1="951.1" x2="682.62" y2="951.1" stroke="#000" stroke-width="2.3" stroke-linecap="butt"/>
<line x1="167.79" y1="951.1" x2="167.79" y2="956" stroke="#000" stroke-width="2.2" stroke-linecap="butt"/>
<line x1="241.18" y1="951.1" x2="241.18" y2="956" stroke="#000" stroke-width="2.2" stroke-linecap="butt"/>
<line x1="314.57" y1="951.1" x2="314.57" y2="956" stroke="#000" stroke-width="2.2" stroke-linecap="butt"/>
<line x1="387.96" y1="951.1" x2="387.96" y2="956" stroke="#000" stroke-width="2.2" stroke-linecap="butt"/>
<line x1="461.35" y1="951.1" x2="461.35" y2="956" stroke="#000" stroke-width="2.2" stroke-linecap="butt"/>
<line x1="534.74" y1="951.1" x2="534.74" y2="956" stroke="#000" stroke-width="2.2" stroke-linecap="butt"/>
<line x1="608.13" y1="951.1" x2="608.13" y2="956" stroke="#000" stroke-width="2.2" stroke-linecap="butt"/>
<line x1="681.52" y1="951.1" x2="681.52" y2="956" stroke="#000" stroke-width="2.2" stroke-linecap="butt"/>
<line x1="89.8" y1="951.1" x2="94.4" y2="951.1" stroke="#000" stroke-width="2.2" stroke-linecap="butt"/>
<text x="81.5" y="956.4" font-size="15" text-anchor="end" fill="#000" font-weight="bold">0</text>
<line x1="89.8" y1="925.73" x2="94.4" y2="925.73" stroke="#000" stroke-width="2.2" stroke-linecap="butt"/>
<text x="81.5" y="931.03" font-size="15" text-anchor="end" fill="#000" font-weight="bold">50</text>
<line x1="89.8" y1="900.37" x2="94.4" y2="900.37" stroke="#000" stroke-width="2.2" stroke-linecap="butt"/>
<text x="81.5" y="905.67" font-size="15" text-anchor="end" fill="#000" font-weight="bold">100</text>
<line x1="89.8" y1="875" x2="94.4" y2="875" stroke="#000" stroke-width="2.2" stroke-linecap="butt"/>
<text x="81.5" y="880.3" font-size="15" text-anchor="end" fill="#000" font-weight="bold">150</text>
<text x="31.2" y="914.55" font-size="14.8" text-anchor="middle" fill="#000" font-weight="bold" transform="rotate(-90 31.2 914.55)">Relative mRNA</text>
<text x="49.4" y="914.55" font-size="14.8" text-anchor="middle" fill="#000" font-weight="bold" transform="rotate(-90 49.4 914.55)">expression (%)</text>
<rect x="312.8" y="988.8" width="7.6" height="7.6" fill="#a9e0ce" stroke="#000" stroke-width="2.2"/>
<text x="322.9" y="998.6" font-size="15" text-anchor="start" fill="#000" font-weight="bold">0</text>
<rect x="342" y="988.8" width="7.6" height="7.6" fill="#2a2f5b" stroke="#000" stroke-width="2.2"/>
<text x="352.2" y="998.6" font-size="15" text-anchor="start" fill="#000" font-weight="bold">30 Flutriafol (µg/mL)</text>
</svg>
</body>
</html>
